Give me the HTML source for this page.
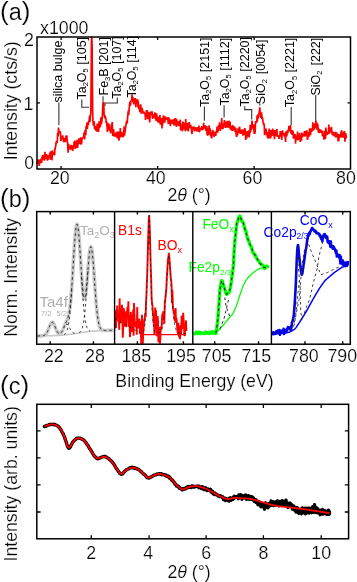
<!DOCTYPE html>
<html><head><meta charset="utf-8"><style>html,body{margin:0;padding:0;background:#fff;width:357px;height:582px;overflow:hidden}svg{display:block}text.txt[fill="#000"]{stroke:#fff;stroke-width:0.2px}</style></head>
<body><svg width="357" height="582" viewBox="0 0 357 582">
<defs><filter id="soft" x="0" y="0" width="357" height="582" filterUnits="userSpaceOnUse"><feGaussianBlur stdDeviation="0.35"/></filter></defs>
<rect width="357" height="582" fill="#fff"/>
<g filter="url(#soft)">
<rect width="357" height="582" fill="#fff"/>
<path class="dat" d="M37.20,162.90 L37.50,163.64 L37.80,161.85 L38.10,159.94 L38.40,161.08 L38.70,159.39 L39.00,162.32 L39.30,165.90 L39.60,160.46 L39.90,159.96 L40.20,163.06 L40.50,162.55 L40.80,161.69 L41.10,158.55 L41.40,161.02 L41.70,162.97 L42.00,156.90 L42.30,159.32 L42.60,154.99 L42.90,156.61 L43.20,154.86 L43.50,159.37 L43.80,156.22 L44.10,160.54 L44.40,160.05 L44.70,158.86 L45.00,151.91 L45.30,157.46 L45.60,158.68 L45.90,158.96 L46.20,154.00 L46.50,156.86 L46.80,155.21 L47.10,155.51 L47.40,160.74 L47.70,155.12 L48.00,157.18 L48.30,159.66 L48.60,155.22 L48.90,156.41 L49.20,156.87 L49.50,156.55 L49.80,152.64 L50.10,156.23 L50.40,159.76 L50.70,151.16 L51.00,157.95 L51.30,155.53 L51.60,153.00 L51.90,160.33 L52.20,156.41 L52.50,150.40 L52.80,153.77 L53.10,154.90 L53.40,152.35 L53.70,154.55 L54.00,152.05 L54.30,153.85 L54.60,155.45 L54.90,148.05 L55.20,149.32 L55.50,146.12 L55.80,146.56 L56.10,141.48 L56.40,141.76 L56.70,141.27 L57.00,142.86 L57.30,141.98 L57.60,133.22 L57.90,133.31 L58.20,136.35 L58.50,127.55 L58.80,130.83 L59.10,130.75 L59.40,133.53 L59.70,132.52 L60.00,131.11 L60.30,132.53 L60.60,134.40 L60.90,141.08 L61.20,136.96 L61.50,137.40 L61.80,139.39 L62.10,138.10 L62.40,137.96 L62.70,135.39 L63.00,138.67 L63.30,137.50 L63.60,142.25 L63.90,140.83 L64.20,138.93 L64.50,140.99 L64.80,138.13 L65.10,142.22 L65.40,139.21 L65.70,140.98 L66.00,135.60 L66.30,140.41 L66.60,135.76 L66.90,136.01 L67.20,142.29 L67.50,141.82 L67.80,146.16 L68.10,152.74 L68.40,144.01 L68.70,144.81 L69.00,147.41 L69.30,148.45 L69.60,146.70 L69.90,146.81 L70.20,149.64 L70.50,149.31 L70.80,144.86 L71.10,147.69 L71.40,148.08 L71.70,144.98 L72.00,148.85 L72.30,145.67 L72.60,151.04 L72.90,148.84 L73.20,148.40 L73.50,146.18 L73.80,147.30 L74.10,141.61 L74.40,143.87 L74.70,147.96 L75.00,140.49 L75.30,148.87 L75.60,141.11 L75.90,148.12 L76.20,143.23 L76.50,147.51 L76.80,145.11 L77.10,139.76 L77.40,147.32 L77.70,147.36 L78.00,142.47 L78.30,141.34 L78.60,141.16 L78.90,138.27 L79.20,144.29 L79.50,139.53 L79.80,140.95 L80.10,138.80 L80.40,139.28 L80.70,137.39 L81.00,144.75 L81.30,140.65 L81.60,143.57 L81.90,140.30 L82.20,137.74 L82.50,138.30 L82.80,137.12 L83.10,138.27 L83.40,136.65 L83.70,136.37 L84.00,132.60 L84.30,133.34 L84.60,139.57 L84.90,131.91 L85.20,129.89 L85.50,133.01 L85.80,135.21 L86.10,126.00 L86.40,128.70 L86.70,126.60 L87.00,122.46 L87.30,128.84 L87.60,125.77 L87.90,125.18 L88.20,121.93 L88.50,124.56 L88.80,120.81 L89.10,121.02 L89.40,117.11 L89.70,115.69 L90.00,121.98 L90.30,115.53 L90.60,115.35 L90.90,111.90 L91.20,71.19 L91.50,37.00 L91.80,37.00 L92.10,45.24 L92.40,85.21 L92.70,113.56 L93.00,121.41 L93.30,124.47 L93.60,125.41 L93.90,123.13 L94.20,121.21 L94.50,128.43 L94.80,128.93 L95.10,126.18 L95.40,128.61 L95.70,129.76 L96.00,130.16 L96.30,130.27 L96.60,126.12 L96.90,131.68 L97.20,123.52 L97.50,129.47 L97.80,128.25 L98.10,129.20 L98.40,131.96 L98.70,130.66 L99.00,122.88 L99.30,121.06 L99.60,127.92 L99.90,122.19 L100.20,124.68 L100.50,126.74 L100.80,119.12 L101.10,117.35 L101.40,123.81 L101.70,122.77 L102.00,119.45 L102.30,116.78 L102.60,110.67 L102.90,103.94 L103.20,102.35 L103.50,101.85 L103.80,105.40 L104.10,114.80 L104.40,115.16 L104.70,118.51 L105.00,115.75 L105.30,117.63 L105.60,117.56 L105.90,118.81 L106.20,122.87 L106.50,120.95 L106.80,125.18 L107.10,126.05 L107.40,131.86 L107.70,122.67 L108.00,129.61 L108.30,127.10 L108.60,127.65 L108.90,123.81 L109.20,127.01 L109.50,130.82 L109.80,128.75 L110.10,129.56 L110.40,128.80 L110.70,133.32 L111.00,130.24 L111.30,124.22 L111.60,128.89 L111.90,125.49 L112.20,122.07 L112.50,130.26 L112.80,135.97 L113.10,132.54 L113.40,129.30 L113.70,130.27 L114.00,136.58 L114.30,134.06 L114.60,133.94 L114.90,133.80 L115.20,134.22 L115.50,136.60 L115.80,136.02 L116.10,135.20 L116.40,131.71 L116.70,136.37 L117.00,133.06 L117.30,138.37 L117.60,131.66 L117.90,135.02 L118.20,135.42 L118.50,131.63 L118.80,140.49 L119.10,139.76 L119.40,134.21 L119.70,137.81 L120.00,136.70 L120.30,128.05 L120.60,136.38 L120.90,135.50 L121.20,135.81 L121.50,132.05 L121.80,133.99 L122.10,133.86 L122.40,137.42 L122.70,134.55 L123.00,133.17 L123.30,137.22 L123.60,130.78 L123.90,130.86 L124.20,126.33 L124.50,135.75 L124.80,132.69 L125.10,131.24 L125.40,129.22 L125.70,126.29 L126.00,125.28 L126.30,122.62 L126.60,121.45 L126.90,120.89 L127.20,123.54 L127.50,119.05 L127.80,115.55 L128.10,112.33 L128.40,110.45 L128.70,115.22 L129.00,110.33 L129.30,107.34 L129.60,104.72 L129.90,101.70 L130.20,103.90 L130.50,105.81 L130.80,101.33 L131.10,100.99 L131.40,100.19 L131.70,100.33 L132.00,94.58 L132.30,98.67 L132.60,97.02 L132.90,102.22 L133.20,97.57 L133.50,101.62 L133.80,104.52 L134.10,99.34 L134.40,98.66 L134.70,101.11 L135.00,100.69 L135.30,97.97 L135.60,102.44 L135.90,107.26 L136.20,100.98 L136.50,101.44 L136.80,99.31 L137.10,103.58 L137.40,99.34 L137.70,100.06 L138.00,107.29 L138.30,101.26 L138.60,107.33 L138.90,109.11 L139.20,106.04 L139.50,107.48 L139.80,112.13 L140.10,106.49 L140.40,105.93 L140.70,104.32 L141.00,108.95 L141.30,113.71 L141.60,112.80 L141.90,107.87 L142.20,108.62 L142.50,109.94 L142.80,112.55 L143.10,111.40 L143.40,112.92 L143.70,113.46 L144.00,112.03 L144.30,113.08 L144.60,114.10 L144.90,113.56 L145.20,115.56 L145.50,119.83 L145.80,116.38 L146.10,115.08 L146.40,110.29 L146.70,116.56 L147.00,110.05 L147.30,111.87 L147.60,118.69 L147.90,118.52 L148.20,116.29 L148.50,111.87 L148.80,115.52 L149.10,114.40 L149.40,117.99 L149.70,122.46 L150.00,116.32 L150.30,113.20 L150.60,111.84 L150.90,114.84 L151.20,114.27 L151.50,111.21 L151.80,114.81 L152.10,111.36 L152.40,118.14 L152.70,118.22 L153.00,118.50 L153.30,114.20 L153.60,117.29 L153.90,115.63 L154.20,115.11 L154.50,115.48 L154.80,112.91 L155.10,112.71 L155.40,119.48 L155.70,116.89 L156.00,118.35 L156.30,120.90 L156.60,113.24 L156.90,116.26 L157.20,119.32 L157.50,120.22 L157.80,118.26 L158.10,122.61 L158.40,120.51 L158.70,116.49 L159.00,117.41 L159.30,122.55 L159.60,121.67 L159.90,114.92 L160.20,124.44 L160.50,122.38 L160.80,124.64 L161.10,119.74 L161.40,120.10 L161.70,117.80 L162.00,128.36 L162.30,120.34 L162.60,125.30 L162.90,118.67 L163.20,120.88 L163.50,115.40 L163.80,118.99 L164.10,122.80 L164.40,116.17 L164.70,122.76 L165.00,120.48 L165.30,116.44 L165.60,118.21 L165.90,118.54 L166.20,119.92 L166.50,118.71 L166.80,118.07 L167.10,119.78 L167.40,117.89 L167.70,117.33 L168.00,121.13 L168.30,124.03 L168.60,117.17 L168.90,121.65 L169.20,119.78 L169.50,118.85 L169.80,124.19 L170.10,120.24 L170.40,126.11 L170.70,119.53 L171.00,122.94 L171.30,121.19 L171.60,119.69 L171.90,123.60 L172.20,121.57 L172.50,123.90 L172.80,122.13 L173.10,119.25 L173.40,122.22 L173.70,122.79 L174.00,125.54 L174.30,120.26 L174.60,122.90 L174.90,118.14 L175.20,125.15 L175.50,120.24 L175.80,118.24 L176.10,123.42 L176.40,126.91 L176.70,119.39 L177.00,120.76 L177.30,121.87 L177.60,120.86 L177.90,125.35 L178.20,122.01 L178.50,122.37 L178.80,126.26 L179.10,122.47 L179.40,126.01 L179.70,122.04 L180.00,121.44 L180.30,119.73 L180.60,130.54 L180.90,124.32 L181.20,126.05 L181.50,125.35 L181.80,126.00 L182.10,125.80 L182.40,131.34 L182.70,122.95 L183.00,121.60 L183.30,123.34 L183.60,122.55 L183.90,128.74 L184.20,129.11 L184.50,124.10 L184.80,123.01 L185.10,126.17 L185.40,131.33 L185.70,119.12 L186.00,128.83 L186.30,124.18 L186.60,130.32 L186.90,124.17 L187.20,126.47 L187.50,122.93 L187.80,124.47 L188.10,131.32 L188.40,129.68 L188.70,126.14 L189.00,124.90 L189.30,122.06 L189.60,126.53 L189.90,127.70 L190.20,127.67 L190.50,127.77 L190.80,124.91 L191.10,128.10 L191.40,128.30 L191.70,132.28 L192.00,134.07 L192.30,128.38 L192.60,126.67 L192.90,128.83 L193.20,127.37 L193.50,127.10 L193.80,129.20 L194.10,126.46 L194.40,131.36 L194.70,129.42 L195.00,130.57 L195.30,129.43 L195.60,127.99 L195.90,127.50 L196.20,129.71 L196.50,128.96 L196.80,131.38 L197.10,130.84 L197.40,127.05 L197.70,131.34 L198.00,127.41 L198.30,129.66 L198.60,130.75 L198.90,125.62 L199.20,131.70 L199.50,131.67 L199.80,130.58 L200.10,129.60 L200.40,129.55 L200.70,127.60 L201.00,129.45 L201.30,128.43 L201.60,130.10 L201.90,126.14 L202.20,130.06 L202.50,129.42 L202.80,128.23 L203.10,127.00 L203.40,129.50 L203.70,122.70 L204.00,128.50 L204.30,127.50 L204.60,127.24 L204.90,127.83 L205.20,125.44 L205.50,127.20 L205.80,130.42 L206.10,130.45 L206.40,130.42 L206.70,126.05 L207.00,132.62 L207.30,135.07 L207.60,135.23 L207.90,133.02 L208.20,127.87 L208.50,135.17 L208.80,132.05 L209.10,125.18 L209.40,133.67 L209.70,128.29 L210.00,128.90 L210.30,130.87 L210.60,136.45 L210.90,131.72 L211.20,133.69 L211.50,138.08 L211.80,137.74 L212.10,132.92 L212.40,132.63 L212.70,129.78 L213.00,131.53 L213.30,134.88 L213.60,134.90 L213.90,134.18 L214.20,136.85 L214.50,131.58 L214.80,133.40 L215.10,135.42 L215.40,134.73 L215.70,135.88 L216.00,133.66 L216.30,131.35 L216.60,133.03 L216.90,128.81 L217.20,126.70 L217.50,132.87 L217.80,130.72 L218.10,131.44 L218.40,125.28 L218.70,128.81 L219.00,127.80 L219.30,126.69 L219.60,122.33 L219.90,127.56 L220.20,130.80 L220.50,128.96 L220.80,125.78 L221.10,127.09 L221.40,128.84 L221.70,118.14 L222.00,125.29 L222.30,126.73 L222.60,126.64 L222.90,129.10 L223.20,126.97 L223.50,124.09 L223.80,123.56 L224.10,124.48 L224.40,120.14 L224.70,121.78 L225.00,124.73 L225.30,127.98 L225.60,122.04 L225.90,122.56 L226.20,123.48 L226.50,127.00 L226.80,123.21 L227.10,127.76 L227.40,120.90 L227.70,123.36 L228.00,123.63 L228.30,126.78 L228.60,127.83 L228.90,120.72 L229.20,122.75 L229.50,126.68 L229.80,124.09 L230.10,121.88 L230.40,129.61 L230.70,128.33 L231.00,128.63 L231.30,126.02 L231.60,130.53 L231.90,127.00 L232.20,131.03 L232.50,125.36 L232.80,125.67 L233.10,128.89 L233.40,126.41 L233.70,130.56 L234.00,129.50 L234.30,126.22 L234.60,129.27 L234.90,128.24 L235.20,132.10 L235.50,127.80 L235.80,128.55 L236.10,133.53 L236.40,136.70 L236.70,136.20 L237.00,130.77 L237.30,131.42 L237.60,135.42 L237.90,130.77 L238.20,128.37 L238.50,131.62 L238.80,132.67 L239.10,129.04 L239.40,126.75 L239.70,127.44 L240.00,133.61 L240.30,129.56 L240.60,131.43 L240.90,132.54 L241.20,133.80 L241.50,131.10 L241.80,133.59 L242.10,129.64 L242.40,131.24 L242.70,129.39 L243.00,135.72 L243.30,132.43 L243.60,130.44 L243.90,131.63 L244.20,132.08 L244.50,134.83 L244.80,128.13 L245.10,129.70 L245.40,131.57 L245.70,139.97 L246.00,135.35 L246.30,132.21 L246.60,134.56 L246.90,138.41 L247.20,131.73 L247.50,131.30 L247.80,135.83 L248.10,133.60 L248.40,133.91 L248.70,130.28 L249.00,137.13 L249.30,136.31 L249.60,132.79 L249.90,132.92 L250.20,124.86 L250.50,132.13 L250.80,128.74 L251.10,129.59 L251.40,129.34 L251.70,125.40 L252.00,120.52 L252.30,126.87 L252.60,124.71 L252.90,126.97 L253.20,127.23 L253.50,129.05 L253.80,124.40 L254.10,133.83 L254.40,130.23 L254.70,131.91 L255.00,133.63 L255.30,127.15 L255.60,121.05 L255.90,122.88 L256.20,121.17 L256.50,122.15 L256.80,122.65 L257.10,115.43 L257.40,121.04 L257.70,114.48 L258.00,118.53 L258.30,116.16 L258.60,114.38 L258.90,114.05 L259.20,112.00 L259.50,111.09 L259.80,107.29 L260.10,111.38 L260.40,116.60 L260.70,117.74 L261.00,116.58 L261.30,115.55 L261.60,112.29 L261.90,119.18 L262.20,116.72 L262.50,118.56 L262.80,119.80 L263.10,122.79 L263.40,123.14 L263.70,125.20 L264.00,123.34 L264.30,126.44 L264.60,135.18 L264.90,129.40 L265.20,129.76 L265.50,132.44 L265.80,133.39 L266.10,128.55 L266.40,131.62 L266.70,135.33 L267.00,133.89 L267.30,133.91 L267.60,138.51 L267.90,132.08 L268.20,134.33 L268.50,132.62 L268.80,138.50 L269.10,128.56 L269.40,132.32 L269.70,132.77 L270.00,136.28 L270.30,136.16 L270.60,138.49 L270.90,129.92 L271.20,136.68 L271.50,133.65 L271.80,132.57 L272.10,136.06 L272.40,131.83 L272.70,128.48 L273.00,133.43 L273.30,130.16 L273.60,132.62 L273.90,135.58 L274.20,135.40 L274.50,139.10 L274.80,133.92 L275.10,130.05 L275.40,132.35 L275.70,131.93 L276.00,131.12 L276.30,135.97 L276.60,132.90 L276.90,129.09 L277.20,136.90 L277.50,134.61 L277.80,136.03 L278.10,135.36 L278.40,136.94 L278.70,135.28 L279.00,138.81 L279.30,136.51 L279.60,136.44 L279.90,136.49 L280.20,131.08 L280.50,134.82 L280.80,134.55 L281.10,135.90 L281.40,131.36 L281.70,140.04 L282.00,135.60 L282.30,131.79 L282.60,130.34 L282.90,134.48 L283.20,135.04 L283.50,133.22 L283.80,135.49 L284.10,133.25 L284.40,136.60 L284.70,132.78 L285.00,134.66 L285.30,137.49 L285.60,142.00 L285.90,131.50 L286.20,132.96 L286.50,131.76 L286.80,136.36 L287.10,130.64 L287.40,132.45 L287.70,133.65 L288.00,130.57 L288.30,130.20 L288.60,131.17 L288.90,126.02 L289.20,127.49 L289.50,130.05 L289.80,131.25 L290.10,129.85 L290.40,125.11 L290.70,129.38 L291.00,133.51 L291.30,133.27 L291.60,131.90 L291.90,130.02 L292.20,134.89 L292.50,131.85 L292.80,130.61 L293.10,131.94 L293.40,138.73 L293.70,135.43 L294.00,138.42 L294.30,133.93 L294.60,138.31 L294.90,134.11 L295.20,135.66 L295.50,143.59 L295.80,138.87 L296.10,135.46 L296.40,136.71 L296.70,137.82 L297.00,140.32 L297.30,135.31 L297.60,131.61 L297.90,135.78 L298.20,136.56 L298.50,136.76 L298.80,140.19 L299.10,137.22 L299.40,138.58 L299.70,132.94 L300.00,138.54 L300.30,142.00 L300.60,138.05 L300.90,136.44 L301.20,136.05 L301.50,140.68 L301.80,132.70 L302.10,134.96 L302.40,136.51 L302.70,137.23 L303.00,133.69 L303.30,135.74 L303.60,133.93 L303.90,134.98 L304.20,134.13 L304.50,131.10 L304.80,134.23 L305.10,136.73 L305.40,131.27 L305.70,133.26 L306.00,135.78 L306.30,130.63 L306.60,134.13 L306.90,130.38 L307.20,136.59 L307.50,139.86 L307.80,138.86 L308.10,132.21 L308.40,134.85 L308.70,132.90 L309.00,132.70 L309.30,136.74 L309.60,128.27 L309.90,134.82 L310.20,131.28 L310.50,135.17 L310.80,131.29 L311.10,128.46 L311.40,130.88 L311.70,131.87 L312.00,129.50 L312.30,130.48 L312.60,127.21 L312.90,122.18 L313.20,130.57 L313.50,129.59 L313.80,127.59 L314.10,126.95 L314.40,129.36 L314.70,124.62 L315.00,123.49 L315.30,124.59 L315.60,128.19 L315.90,120.31 L316.20,128.05 L316.50,123.33 L316.80,122.58 L317.10,130.02 L317.40,126.68 L317.70,123.78 L318.00,127.10 L318.30,131.43 L318.60,132.78 L318.90,128.67 L319.20,131.68 L319.50,132.81 L319.80,129.10 L320.10,132.23 L320.40,131.35 L320.70,130.12 L321.00,130.48 L321.30,132.34 L321.60,132.46 L321.90,130.97 L322.20,131.61 L322.50,136.24 L322.80,133.66 L323.10,135.63 L323.40,136.58 L323.70,134.83 L324.00,139.74 L324.30,130.78 L324.60,135.55 L324.90,132.31 L325.20,138.64 L325.50,138.22 L325.80,127.49 L326.10,130.14 L326.40,134.67 L326.70,134.82 L327.00,134.46 L327.30,131.90 L327.60,133.22 L327.90,133.58 L328.20,131.25 L328.50,134.25 L328.80,124.51 L329.10,132.69 L329.40,127.64 L329.70,133.33 L330.00,130.04 L330.30,128.28 L330.60,132.10 L330.90,128.53 L331.20,128.68 L331.50,126.94 L331.80,131.56 L332.10,133.23 L332.40,134.91 L332.70,131.69 L333.00,135.37 L333.30,132.62 L333.60,132.53 L333.90,134.70 L334.20,136.34 L334.50,132.52 L334.80,133.03 L335.10,133.51 L335.40,134.45 L335.70,131.83 L336.00,137.62 L336.30,133.60 L336.60,136.22 L336.90,132.61 L337.20,136.16 L337.50,136.38 L337.80,134.14 L338.10,141.34 L338.40,136.68 L338.70,140.87 L339.00,138.62 L339.30,134.04 L339.60,134.97 L339.90,137.46 L340.20,136.44 L340.50,136.47 L340.80,135.57 L341.10,131.22 L341.40,135.87 L341.70,130.16 L342.00,137.74 L342.30,134.62 L342.60,134.72 L342.90,136.22 L343.20,137.70 L343.50,132.80 L343.80,131.92 L344.10,133.93 L344.40,131.14 L344.70,134.30 L345.00,141.75 L345.30,134.11 L345.60,139.10 L345.90,133.27 L346.20,138.15" fill="none" stroke="#ff0000" stroke-width="1.7" stroke-linejoin="bevel"/>
<rect class="ax" x="37" y="37" width="313.5" height="132" fill="none" stroke="#000" stroke-width="1.5"/>
<path class="ax" d="M61.1,169v-3M61.1,37v3M157.6,169v-3M157.6,37v3M254.1,169v-3M254.1,37v3M37,102.8h3M350.5,102.8h-3" stroke="#000" stroke-width="1.3" fill="none"/>
<text class="txt" x="33.8" y="45.8" font-family="Liberation Sans" font-size="17.8" text-anchor="end" fill="#000" >2</text>
<text class="txt" x="33.3" y="109.6" font-family="Liberation Sans" font-size="17.8" text-anchor="end" fill="#000" >1</text>
<text class="txt" x="34.2" y="169" font-family="Liberation Sans" font-size="17.8" text-anchor="end" fill="#000" >0</text>
<text class="txt" x="40" y="33.9" font-family="Liberation Sans" font-size="17.8" text-anchor="start" fill="#000" >x1000</text>
<text class="txt" x="59.8" y="184.3" font-family="Liberation Sans" font-size="17.8" text-anchor="middle" fill="#000" >20</text>
<text class="txt" x="155.8" y="184.3" font-family="Liberation Sans" font-size="17.8" text-anchor="middle" fill="#000" >40</text>
<text class="txt" x="252.4" y="184.3" font-family="Liberation Sans" font-size="17.8" text-anchor="middle" fill="#000" >60</text>
<text class="txt" x="346" y="184.3" font-family="Liberation Sans" font-size="17.8" text-anchor="middle" fill="#000" >80</text>
<text class="txt" x="189" y="201" font-family="Liberation Sans" font-size="17.7" text-anchor="middle" fill="#000">2<tspan font-style="italic">θ</tspan> (°)</text>
<text class="txt" x="0" y="20" font-family="Liberation Sans" font-size="26" text-anchor="start" fill="#000" >(<tspan font-size="23.5">a</tspan>)</text>
<text class="txt" transform="translate(17.4,160.3) rotate(-90)" font-family="Liberation Sans" font-size="17.7" text-anchor="start" fill="#000">Intensity (cts/s)</text>
<text class="ann" transform="translate(61.8,102.5) rotate(-90)" font-family="Liberation Sans" font-size="12.5" text-anchor="start" fill="#000">silica bulge</text>
<text class="ann" transform="translate(86.2,99.5) rotate(-90)" font-family="Liberation Sans" font-size="12.5" text-anchor="start" fill="#000">Ta<tspan font-size="7.5" dy="2.2">2</tspan><tspan dy="-2.2">O</tspan><tspan font-size="7.5" dy="2.2">5</tspan><tspan dy="-2.2"> [105]</tspan></text>
<text class="ann" transform="translate(107.6,95.5) rotate(-90)" font-family="Liberation Sans" font-size="12.5" text-anchor="start" fill="#000">Fe<tspan font-size="7.5" dy="2.2">3</tspan><tspan dy="-2.2">B [201]</tspan></text>
<text class="ann" transform="translate(121,98.8) rotate(-90)" font-family="Liberation Sans" font-size="12.5" text-anchor="start" fill="#000">Ta<tspan font-size="7.5" dy="2.2">2</tspan><tspan dy="-2.2">O</tspan><tspan font-size="7.5" dy="2.2">5</tspan><tspan dy="-2.2"> [107]</tspan></text>
<text class="ann" transform="translate(136.2,97.5) rotate(-90)" font-family="Liberation Sans" font-size="12.5" text-anchor="start" fill="#000">Ta<tspan font-size="7.5" dy="2.2">2</tspan><tspan dy="-2.2">O</tspan><tspan font-size="7.5" dy="2.2">5</tspan><tspan dy="-2.2"> [114]</tspan></text>
<text class="ann" transform="translate(208.7,107) rotate(-90)" font-family="Liberation Sans" font-size="12.5" text-anchor="start" fill="#000">Ta<tspan font-size="7.5" dy="2.2">2</tspan><tspan dy="-2.2">O</tspan><tspan font-size="7.5" dy="2.2">5</tspan><tspan dy="-2.2"> [2151]</tspan></text>
<text class="ann" transform="translate(228.7,105.5) rotate(-90)" font-family="Liberation Sans" font-size="12.5" text-anchor="start" fill="#000">Ta<tspan font-size="7.5" dy="2.2">2</tspan><tspan dy="-2.2">O</tspan><tspan font-size="7.5" dy="2.2">5</tspan><tspan dy="-2.2"> [1112]</tspan></text>
<text class="ann" transform="translate(249,106.5) rotate(-90)" font-family="Liberation Sans" font-size="12.5" text-anchor="start" fill="#000">Ta<tspan font-size="7.5" dy="2.2">2</tspan><tspan dy="-2.2">O</tspan><tspan font-size="7.5" dy="2.2">5</tspan><tspan dy="-2.2"> [2220]</tspan></text>
<text class="ann" transform="translate(264.5,104.2) rotate(-90)" font-family="Liberation Sans" font-size="12.5" text-anchor="start" fill="#000">SiO<tspan font-size="7.5" dy="2.2">2</tspan><tspan dy="-2.2" dx="1.5"> [0054]</tspan></text>
<text class="ann" transform="translate(294.3,107.2) rotate(-90)" font-family="Liberation Sans" font-size="12.5" text-anchor="start" fill="#000">Ta<tspan font-size="7.5" dy="2.2">2</tspan><tspan dy="-2.2">O</tspan><tspan font-size="7.5" dy="2.2">5</tspan><tspan dy="-2.2"> [2221]</tspan></text>
<text class="ann" transform="translate(319.5,95.5) rotate(-90)" font-family="Liberation Sans" font-size="12.5" text-anchor="start" fill="#000">SiO<tspan font-size="7.5" dy="2.2">2</tspan><tspan dy="-2.2" dx="1.5"> [222]</tspan></text>
<path class="lead" d="M58.9,102.5V125M81.8,99.6V107.3H89M103,96.3V101.4M117.3,97.6V103H105V106M204.4,106.5V120.8M224.1,105.3V117.4M244.7,106.3V109.6H251.7V119.4M259.8,103.3V105.6M291.2,107V125M315.7,95V120.5" stroke="#333" stroke-width="1.1" fill="none"/>
<path class="dat" d="M37.50,335.94 L38.00,335.93 L38.50,335.93 L39.00,335.92 L39.50,335.92 L40.00,335.92 L40.50,335.91 L41.00,335.91 L41.50,335.90 L42.00,335.90 L42.50,335.89 L43.00,335.88 L43.50,335.88 L44.00,335.87 L44.50,335.86 L45.00,335.86 L45.50,335.85 L46.00,335.84 L46.50,335.83 L47.00,335.82 L47.50,335.81 L48.00,335.80 L48.50,335.79 L49.00,335.78 L49.50,335.77 L50.00,335.75 L50.50,335.74 L51.00,335.72 L51.50,335.71 L52.00,335.69 L52.50,335.68 L53.00,335.66 L53.50,335.64 L54.00,335.62 L54.50,335.60 L55.00,335.58 L55.50,335.56 L56.00,335.54 L56.50,335.51 L57.00,335.49 L57.50,335.46 L58.00,335.43 L58.50,335.40 L59.00,335.37 L59.50,335.34 L60.00,335.31 L60.50,335.27 L61.00,335.24 L61.50,335.20 L62.00,335.16 L62.50,335.12 L63.00,335.08 L63.50,335.03 L64.00,334.99 L64.50,334.94 L65.00,334.89 L65.50,334.84 L66.00,334.79 L66.50,334.74 L67.00,334.68 L67.50,334.62 L68.00,334.56 L68.50,334.50 L69.00,334.44 L69.50,334.38 L70.00,334.31 L70.50,334.24 L71.00,334.17 L71.50,334.10 L72.00,334.03 L72.50,333.96 L73.00,333.89 L73.50,333.81 L74.00,333.73 L74.50,333.66 L75.00,333.58 L75.50,333.50 L76.00,333.42 L76.50,333.34 L77.00,333.26 L77.50,333.18 L78.00,333.10 L78.50,333.02 L79.00,332.94 L79.50,332.86 L80.00,332.78 L80.50,332.70 L81.00,332.62 L81.50,332.54 L82.00,332.47 L82.50,332.39 L83.00,332.31 L83.50,332.24 L84.00,332.17 L84.50,332.10 L85.00,332.03 L85.50,331.96 L86.00,331.89 L86.50,331.82 L87.00,331.76 L87.50,331.70 L88.00,331.64 L88.50,331.58 L89.00,331.52 L89.50,331.46 L90.00,331.41 L90.50,331.36 L91.00,331.31 L91.50,331.26 L92.00,331.21 L92.50,331.17 L93.00,331.12 L93.50,331.08 L94.00,331.04 L94.50,331.00 L95.00,330.96 L95.50,330.93 L96.00,330.89 L96.50,330.86 L97.00,330.83 L97.50,330.80 L98.00,330.77 L98.50,330.74 L99.00,330.71 L99.50,330.69 L100.00,330.66 L100.50,330.64 L101.00,330.62 L101.50,330.60 L102.00,330.58 L102.50,330.56 L103.00,330.54 L103.50,330.52 L104.00,330.51 L104.50,330.49 L105.00,330.48 L105.50,330.46 L106.00,330.45 L106.50,330.43 L107.00,330.42 L107.50,330.41 L108.00,330.40 L108.50,330.39 L109.00,330.38 L109.50,330.37 L110.00,330.36 L110.50,330.35 L111.00,330.34 L111.50,330.34 L112.00,330.33 L112.50,330.32 L113.00,330.32 L113.50,330.31" fill="none" stroke="#c8c8c8" stroke-width="1.6"/>
<path class="dat" d="M37.50,335.94 L38.00,335.93 L38.50,335.93 L39.00,335.92 L39.50,335.92 L40.00,335.91 L40.50,335.90 L41.00,335.89 L41.50,335.87 L42.00,335.84 L42.50,335.79 L43.00,335.72 L43.50,335.61 L44.00,335.46 L44.50,335.25 L45.00,334.95 L45.50,334.54 L46.00,334.01 L46.50,333.34 L47.00,332.51 L47.50,331.53 L48.00,330.41 L48.50,329.17 L49.00,327.85 L49.50,326.53 L50.00,325.26 L50.50,324.12 L51.00,323.20 L51.50,322.55 L52.00,322.22 L52.50,322.24 L53.00,322.60 L53.50,323.28 L54.00,324.21 L54.50,325.35 L55.00,326.59 L55.50,327.88 L56.00,329.14 L56.50,330.30 L57.00,331.33 L57.50,332.19 L58.00,332.86 L58.50,333.34 L59.00,333.63 L59.50,333.73 L60.00,333.64 L60.50,333.37 L61.00,332.92 L61.50,332.30 L62.00,331.51 L62.50,330.58 L63.00,329.52 L63.50,328.38 L64.00,327.17 L64.50,325.95 L65.00,324.74 L65.50,323.57 L66.00,322.44 L66.50,321.33 L67.00,320.20 L67.50,318.95 L68.00,317.48 L68.50,315.66 L69.00,313.36 L69.50,310.44 L70.00,306.79 L70.50,302.30 L71.00,296.96 L71.50,290.77 L72.00,283.81 L72.50,276.23 L73.00,268.22 L73.50,260.06 L74.00,252.04 L74.50,244.49 L75.00,237.74 L75.50,232.09 L76.00,227.83 L76.50,225.15 L77.00,224.18 L77.50,224.98 L78.00,227.50 L78.50,231.59 L79.00,237.06 L79.50,243.61 L80.00,250.94 L80.50,258.67 L81.00,266.47 L81.50,273.99 L82.00,280.90 L82.50,286.92 L83.00,291.83 L83.50,295.44 L84.00,297.62 L84.50,298.30 L85.00,297.49 L85.50,295.25 L86.00,291.69 L86.50,287.02 L87.00,281.47 L87.50,275.37 L88.00,269.07 L88.50,262.93 L89.00,257.34 L89.50,252.65 L90.00,249.16 L90.50,247.12 L91.00,246.67 L91.50,247.85 L92.00,250.60 L92.50,254.79 L93.00,260.16 L93.50,266.44 L94.00,273.32 L94.50,280.46 L95.00,287.59 L95.50,294.43 L96.00,300.78 L96.50,306.51 L97.00,311.52 L97.50,315.79 L98.00,319.33 L98.50,322.20 L99.00,324.46 L99.50,326.19 L100.00,327.50 L100.50,328.46 L101.00,329.14 L101.50,329.62 L102.00,329.94 L102.50,330.15 L103.00,330.29 L103.50,330.37 L104.00,330.41 L104.50,330.44 L105.00,330.44 L105.50,330.44 L106.00,330.44 L106.50,330.43 L107.00,330.42 L107.50,330.41 L108.00,330.40 L108.50,330.39 L109.00,330.38 L109.50,330.37 L110.00,330.36 L110.50,330.35 L111.00,330.34 L111.50,330.34 L112.00,330.33 L112.50,330.32 L113.00,330.32 L113.50,330.31" fill="none" stroke="#c8c8c8" stroke-width="3.6" stroke-linejoin="round"/>
<path class="dash" d="M66.00,324.48 L66.50,324.24 L67.00,324.27 L67.50,324.56 L68.00,325.08 L68.50,325.80 L69.00,326.66 L69.50,327.60 L70.00,328.56 L70.50,329.48 L71.00,330.34 L71.50,331.09 L72.00,331.73 L72.50,332.24 L73.00,332.64 L73.50,332.93 L74.00,333.13 L74.50,333.25" fill="none" stroke="#333" stroke-width="1.0" stroke-dasharray="2.6,2.9"/>
<path class="dash" d="M64.00,334.57 L64.50,334.30 L65.00,333.93 L65.50,333.43 L66.00,332.75 L66.50,331.83 L67.00,330.61 L67.50,329.01 L68.00,326.96 L68.50,324.36 L69.00,321.14 L69.50,317.22 L70.00,312.54 L70.50,307.06 L71.00,300.80 L71.50,293.78 L72.00,286.11" fill="none" stroke="#333" stroke-width="1.0" stroke-dasharray="2.6,2.9"/>
<path class="dash" d="M81.50,276.53 L82.00,284.55 L82.50,292.07 L83.00,298.94 L83.50,305.06 L84.00,310.40 L84.50,314.94 L85.00,318.73 L85.50,321.82 L86.00,324.29 L86.50,326.21 L87.00,327.69 L87.50,328.79 L88.00,329.59 L88.50,330.17 L89.00,330.56 L89.50,330.82 L90.00,330.99" fill="none" stroke="#333" stroke-width="1.0" stroke-dasharray="2.6,2.9"/>
<path class="dash" d="M79.00,332.63 L79.50,332.37 L80.00,332.02 L80.50,331.54 L81.00,330.89 L81.50,330.01 L82.00,328.82 L82.50,327.25 L83.00,325.21 L83.50,322.62 L84.00,319.39 L84.50,315.46 L85.00,310.79 L85.50,305.39 L86.00,299.29 L86.50,292.63 L87.00,285.55 L87.50,278.28 L88.00,271.11" fill="none" stroke="#333" stroke-width="1.0" stroke-dasharray="2.6,2.9"/>
<path class="dash" d="M37.50,335.94 L38.00,335.93 L38.50,335.93 L39.00,335.92 L39.50,335.92 L40.00,335.91 L40.50,335.90 L41.00,335.89 L41.50,335.87 L42.00,335.84 L42.50,335.79 L43.00,335.72 L43.50,335.61 L44.00,335.46 L44.50,335.25 L45.00,334.95 L45.50,334.54 L46.00,334.01 L46.50,333.34 L47.00,332.51 L47.50,331.53 L48.00,330.41 L48.50,329.17 L49.00,327.85 L49.50,326.53 L50.00,325.26 L50.50,324.12 L51.00,323.20 L51.50,322.55 L52.00,322.22 L52.50,322.24 L53.00,322.60 L53.50,323.28 L54.00,324.21 L54.50,325.35 L55.00,326.59 L55.50,327.88 L56.00,329.14 L56.50,330.30 L57.00,331.33 L57.50,332.19 L58.00,332.86 L58.50,333.34 L59.00,333.63 L59.50,333.73 L60.00,333.64 L60.50,333.37 L61.00,332.92 L61.50,332.30 L62.00,331.51 L62.50,330.58 L63.00,329.52 L63.50,328.38 L64.00,327.17 L64.50,325.95 L65.00,324.74 L65.50,323.57 L66.00,322.44 L66.50,321.33 L67.00,320.20 L67.50,318.95 L68.00,317.48 L68.50,315.66 L69.00,313.36 L69.50,310.44 L70.00,306.79 L70.50,302.30 L71.00,296.96 L71.50,290.77 L72.00,283.81 L72.50,276.23 L73.00,268.22 L73.50,260.06 L74.00,252.04 L74.50,244.49 L75.00,237.74 L75.50,232.09 L76.00,227.83 L76.50,225.15 L77.00,224.18 L77.50,224.98 L78.00,227.50 L78.50,231.59 L79.00,237.06 L79.50,243.61 L80.00,250.94 L80.50,258.67 L81.00,266.47 L81.50,273.99 L82.00,280.90 L82.50,286.92 L83.00,291.83 L83.50,295.44 L84.00,297.62 L84.50,298.30 L85.00,297.49 L85.50,295.25 L86.00,291.69 L86.50,287.02 L87.00,281.47 L87.50,275.37 L88.00,269.07 L88.50,262.93 L89.00,257.34 L89.50,252.65 L90.00,249.16 L90.50,247.12 L91.00,246.67 L91.50,247.85 L92.00,250.60 L92.50,254.79 L93.00,260.16 L93.50,266.44 L94.00,273.32 L94.50,280.46 L95.00,287.59 L95.50,294.43 L96.00,300.78 L96.50,306.51 L97.00,311.52 L97.50,315.79 L98.00,319.33 L98.50,322.20 L99.00,324.46 L99.50,326.19 L100.00,327.50 L100.50,328.46 L101.00,329.14 L101.50,329.62 L102.00,329.94 L102.50,330.15 L103.00,330.29 L103.50,330.37 L104.00,330.41 L104.50,330.44 L105.00,330.44 L105.50,330.44 L106.00,330.44 L106.50,330.43 L107.00,330.42 L107.50,330.41 L108.00,330.40 L108.50,330.39 L109.00,330.38 L109.50,330.37 L110.00,330.36 L110.50,330.35 L111.00,330.34 L111.50,330.34 L112.00,330.33 L112.50,330.32 L113.00,330.32 L113.50,330.31" fill="none" stroke="#2a2a2a" stroke-width="1.0" stroke-dasharray="2.6,2.9"/>
<text class="txt" x="39.5" y="307" font-family="Liberation Sans" font-size="15" text-anchor="start" fill="#b0b0b0" >Ta4f</text>
<text class="txt" x="41" y="316.4" font-family="Liberation Sans" font-size="7.5" text-anchor="start" fill="#b0b0b0" style="stroke:none">7/2</text>
<text class="txt" x="56.5" y="316.4" font-family="Liberation Sans" font-size="7.5" text-anchor="start" fill="#b0b0b0" style="stroke:none">5/2</text>
<text class="txt" x="80" y="234.7" font-family="Liberation Sans" font-size="13.5" fill="#b0b0b0">Ta<tspan font-size="9" dy="3">2</tspan><tspan dy="-3">O</tspan><tspan font-size="9" dy="3">3</tspan></text>
<path class="dat" d="M114.80,310.04 L115.20,312.37 L115.60,317.87 L116.00,328.14 L116.40,315.07 L116.80,314.70 L117.20,305.60 L117.60,319.06 L118.00,312.24 L118.40,321.63 L118.80,314.42 L119.20,329.82 L119.60,298.39 L120.00,312.96 L120.40,323.20 L120.80,312.95 L121.20,309.43 L121.60,314.13 L122.00,304.89 L122.40,317.86 L122.80,337.82 L123.20,327.04 L123.60,308.11 L124.00,310.34 L124.40,314.56 L124.80,326.76 L125.20,311.47 L125.60,312.82 L126.00,326.43 L126.40,326.49 L126.80,316.19 L127.20,310.10 L127.60,306.66 L128.00,314.12 L128.40,301.33 L128.80,326.89 L129.20,315.39 L129.60,325.06 L130.00,337.08 L130.40,331.40 L130.80,311.88 L131.20,329.28 L131.60,331.96 L132.00,316.00 L132.40,314.47 L132.80,321.87 L133.20,309.42 L133.60,335.76 L134.00,303.05 L134.40,314.31 L134.80,321.66 L135.20,322.25 L135.60,325.82 L136.00,326.94 L136.40,323.05 L136.80,334.76 L137.20,307.14 L137.60,325.55 L138.00,319.71 L138.40,327.14 L138.80,328.12 L139.20,318.72 L139.60,321.23 L140.00,333.60 L140.40,329.98 L140.80,321.36 L141.20,343.70 L141.60,343.70 L142.00,314.82 L142.40,329.61 L142.80,343.70 L143.20,332.86 L143.60,327.41 L144.00,322.79 L144.40,318.56 L144.80,318.80 L145.20,313.07 L145.60,317.09 L146.00,303.74 L146.40,295.86 L146.80,283.93 L147.20,275.77 L147.60,260.22 L148.00,245.58 L148.40,232.27 L148.80,219.51 L149.10,215.24 L149.20,215.83 L149.60,224.51 L150.00,238.01 L150.40,253.22 L150.80,269.87 L151.20,279.38 L151.60,298.36 L152.00,302.34 L152.40,304.78 L152.80,311.47 L153.20,313.86 L153.60,322.96 L154.00,317.98 L154.40,334.43 L154.80,319.50 L155.20,307.53 L155.60,320.76 L156.00,310.16 L156.40,326.92 L156.80,336.29 L157.20,332.82 L157.60,315.98 L158.00,320.81 L158.40,342.23 L158.80,329.76 L159.20,326.94 L159.60,335.55 L160.00,343.70 L160.40,336.78 L160.80,326.66 L161.20,327.76 L161.60,329.00 L162.00,318.15 L162.40,313.49 L162.80,320.44 L163.20,311.19 L163.60,315.22 L164.00,313.41 L164.40,323.70 L164.80,300.78 L165.20,300.49 L165.60,295.44 L166.00,292.32 L166.40,287.93 L166.80,277.92 L167.20,271.82 L167.60,264.44 L168.00,259.68 L168.40,257.08 L168.80,254.16 L168.80,252.81 L169.20,255.92 L169.60,260.91 L170.00,267.18 L170.40,272.11 L170.80,278.42 L171.20,279.77 L171.60,286.57 L172.00,303.16 L172.40,290.17 L172.80,303.64 L173.20,310.76 L173.60,310.33 L174.00,310.05 L174.40,317.61 L174.80,320.01 L175.20,321.04 L175.60,308.15 L176.00,322.85 L176.40,317.90 L176.80,321.00 L177.20,327.90 L177.60,331.75 L178.00,334.22 L178.40,322.73 L178.80,334.88 L179.20,337.12 L179.60,336.91 L180.00,339.13 L180.40,326.16 L180.80,325.95 L181.20,334.46 L181.60,315.86 L182.00,329.26 L182.40,322.98 L182.80,324.35 L183.20,312.69 L183.60,319.93 L184.00,327.32 L184.40,335.05 L184.80,335.91 L185.20,326.82 L185.60,325.89 L186.00,320.44 L186.40,330.92" fill="none" stroke="#ff0000" stroke-width="1.9" stroke-linejoin="bevel"/>
<path class="dat" d="M142,334.6H186" stroke="#ff0000" stroke-width="1.1"/>
<path class="dash" d="M114.80,318.75 L115.20,318.88 L115.60,319.03 L116.00,319.21 L116.40,319.42 L116.80,319.65 L117.20,319.87 L117.60,320.10 L118.00,320.33 L118.40,320.56 L118.80,320.79 L119.20,321.02 L119.60,321.25 L120.00,321.48 L120.40,321.71 L120.80,321.94 L121.20,322.16 L121.60,322.39 L122.00,322.62 L122.40,322.85 L122.80,323.08 L123.20,323.31 L123.60,323.54 L124.00,323.77 L124.40,324.00 L124.80,324.23 L125.20,324.45 L125.60,324.68 L126.00,324.91 L126.40,325.14 L126.80,325.37 L127.20,325.60 L127.60,325.83 L128.00,326.06 L128.40,326.29 L128.80,326.52 L129.20,326.74 L129.60,326.97 L130.00,327.20 L130.40,327.43 L130.80,327.66 L131.20,327.89 L131.60,328.12 L132.00,328.35 L132.40,328.58 L132.80,328.81 L133.20,329.03 L133.60,329.26 L134.00,329.49 L134.40,329.72 L134.80,329.95 L135.20,330.18 L135.60,330.41 L136.00,330.64 L136.40,330.87 L136.80,331.10 L137.20,331.32 L137.60,331.55 L138.00,331.78 L138.40,332.01 L138.80,332.24 L139.20,332.47 L139.60,332.68 L140.00,332.86 L140.40,333.02 L140.80,333.13 L141.20,333.21 L141.60,333.23 L142.00,333.18 L142.40,333.02 L142.80,332.72 L143.20,332.21 L143.60,331.41 L144.00,330.20 L144.40,328.38 L144.80,325.74 L145.20,321.99 L145.60,316.84 L146.00,309.96 L146.40,301.10 L146.80,290.09 L147.20,277.01 L147.60,262.26 L148.00,246.71 L148.40,231.84 L148.80,219.95 L149.10,215.50 L149.20,216.28 L149.60,225.33 L150.00,239.07 L150.40,254.51 L150.80,269.80 L151.20,283.79 L151.60,295.86 L152.00,305.79 L152.40,313.64 L152.80,319.61 L153.20,324.02 L153.60,327.17 L154.00,329.37 L154.40,330.86 L154.80,331.84 L155.20,332.47 L155.60,332.87 L156.00,333.10 L156.40,333.24 L156.80,333.30 L157.20,333.32 L157.60,333.30 L158.00,333.24 L158.40,333.16 L158.80,333.03 L159.20,332.85 L159.60,332.62 L160.00,332.30 L160.40,331.88 L160.80,331.33 L161.20,330.62 L161.60,329.71 L162.00,328.56 L162.40,327.13 L162.80,325.34 L163.20,323.17 L163.60,320.54 L164.00,317.40 L164.40,313.72 L164.80,309.47 L165.20,304.62 L165.60,299.21 L166.00,293.29 L166.40,286.96 L166.80,280.37 L167.20,273.77 L167.60,267.43 L168.00,261.77 L168.40,257.30 L168.80,255.00 L168.80,255.00 L169.20,257.30 L169.60,261.77 L170.00,267.43 L170.40,273.77 L170.80,280.37 L171.20,286.96 L171.60,293.29 L172.00,299.21 L172.40,304.62 L172.80,309.47 L173.20,313.72 L173.60,317.40 L174.00,320.54 L174.40,323.17 L174.80,325.34 L175.20,327.13 L175.60,328.56 L176.00,329.71 L176.40,330.62 L176.80,331.33 L177.20,331.88 L177.60,332.30 L178.00,332.62 L178.40,332.86 L178.80,333.03 L179.20,333.17 L179.60,333.26 L180.00,333.33 L180.40,333.38 L180.80,333.42 L181.20,333.44 L181.60,333.46 L182.00,333.47 L182.40,333.48 L182.80,333.49 L183.20,333.49 L183.60,333.49 L184.00,333.50 L184.40,333.50 L184.80,333.50 L185.20,333.50 L185.60,333.50 L186.00,333.50 L186.40,333.50" fill="none" stroke="#222" stroke-width="0.85" stroke-dasharray="2.6,2.9"/>
<text class="txt" x="118" y="234.7" font-family="Liberation Sans" font-size="13.8" text-anchor="start" fill="#ff0000" >B1s</text>
<text class="txt" x="157.5" y="250" font-family="Liberation Sans" font-size="13.8" fill="#ff0000">BO<tspan font-size="9" dy="3">x</tspan></text>
<path class="dat" d="M194.00,332.87 L194.50,333.30 L195.00,333.86 L195.50,332.96 L196.00,332.22 L196.50,332.53 L197.00,332.23 L197.50,332.35 L198.00,333.60 L198.50,333.05 L199.00,332.17 L199.50,333.25 L200.00,333.55 L200.50,332.73 L201.00,332.56 L201.50,332.73 L202.00,333.03 L202.50,333.20 L203.00,333.46 L203.50,333.47 L204.00,333.45 L204.50,333.53 L205.00,333.18 L205.50,332.07 L206.00,332.77 L206.50,332.98 L207.00,332.63 L207.50,333.27 L208.00,332.62 L208.50,332.33 L209.00,333.51 L209.50,333.12 L210.00,332.89 L210.50,333.23 L211.00,333.29 L211.50,332.93 L212.00,331.52 L212.50,332.40 L213.00,332.51 L213.50,332.23 L214.00,332.82 L214.50,333.31 L215.00,332.46 L215.50,332.09 L216.00,333.29 L216.50,330.12 L217.00,326.28 L217.50,322.35 L218.00,317.17 L218.50,310.33 L219.00,303.78 L219.50,295.45 L220.00,289.27 L220.50,285.59 L221.00,283.39 L221.50,280.76 L222.00,280.77 L222.50,281.52 L223.00,284.81 L223.50,284.79 L224.00,287.47 L224.50,288.27 L225.00,289.74 L225.50,291.66 L226.00,293.25 L226.50,294.40 L227.00,294.23 L227.50,293.40 L228.00,292.93 L228.50,292.95 L229.00,292.49 L229.50,291.73 L230.00,289.24 L230.50,286.73 L231.00,283.96 L231.50,280.28 L232.00,276.46 L232.50,273.61 L233.00,269.05 L233.50,263.75 L234.00,253.33 L234.50,246.07 L235.00,239.30 L235.50,235.28 L236.00,230.33 L236.50,225.81 L237.00,222.85 L237.50,221.13 L238.00,219.73 L238.50,217.93 L239.00,216.90 L239.50,217.24 L240.00,215.92 L240.50,217.87 L241.00,218.27 L241.50,219.79 L242.00,221.09 L242.50,221.62 L243.00,223.06 L243.50,223.16 L244.00,226.05 L244.50,226.94 L245.00,229.29 L245.50,230.82 L246.00,231.18 L246.50,233.84 L247.00,236.07 L247.50,238.45 L248.00,239.34 L248.50,240.68 L249.00,241.05 L249.50,243.67 L250.00,245.07 L250.50,245.38 L251.00,246.46 L251.50,246.97 L252.00,249.43 L252.50,251.54 L253.00,251.75 L253.50,253.11 L254.00,253.71 L254.50,253.78 L255.00,255.78 L255.50,255.33 L256.00,256.67 L256.50,257.75 L257.00,258.89 L257.50,259.49 L258.00,260.32 L258.50,260.58 L259.00,261.15 L259.50,262.66 L260.00,263.03 L260.50,263.36 L261.00,263.88 L261.50,264.71 L262.00,264.47 L262.50,265.17 L263.00,265.47 L263.50,266.82 L264.00,267.38 L264.50,268.47 L265.00,266.74 L265.50,266.90 L266.00,267.35 L266.50,266.44 L267.00,266.03 L267.50,266.70 L268.00,265.45" fill="none" stroke="#00ff00" stroke-width="3.3" stroke-linejoin="round"/>
<path class="dat" d="M215.20,332.59 L215.70,332.56 L216.20,332.43 L216.70,332.15 L217.20,331.72 L217.70,331.24 L218.20,330.75 L218.70,330.26 L219.20,329.78 L219.70,329.28 L220.20,328.74 L220.70,328.17 L221.20,327.58 L221.70,326.99 L222.20,326.40 L222.70,325.81 L223.20,325.22 L223.70,324.63 L224.20,324.03 L224.70,323.42 L225.20,322.79 L225.70,322.16 L226.20,321.53 L226.70,320.90 L227.20,320.27 L227.70,319.64 L228.20,319.01 L228.70,318.40 L229.20,317.83 L229.70,317.30 L230.20,316.80 L230.70,316.30 L231.20,315.80 L231.70,315.30 L232.20,314.62 L232.70,313.77 L233.20,312.75 L233.70,311.72 L234.20,310.69 L234.70,309.67 L235.20,308.64 L235.70,307.55 L236.20,306.30 L236.70,304.88 L237.20,303.37 L237.70,301.86 L238.20,300.35 L238.70,298.83 L239.20,297.32 L239.70,295.81 L240.20,294.31 L240.70,292.82 L241.20,291.34 L241.70,289.86 L242.20,288.37 L242.70,286.96 L243.20,285.74 L243.70,284.71 L244.20,283.79 L244.70,282.87 L245.20,281.95 L245.70,281.03 L246.20,280.11 L246.70,279.29 L247.20,278.60 L247.70,278.04 L248.20,277.50 L248.70,276.96 L249.20,276.43 L249.70,275.89 L250.20,275.36 L250.70,274.84 L251.20,274.38 L251.70,273.97 L252.20,273.59 L252.70,273.21 L253.20,272.83 L253.70,272.46 L254.20,272.08 L254.70,271.70 L255.20,271.32 L255.70,270.94 L256.20,270.56 L256.70,270.18 L257.20,269.81 L257.70,269.46 L258.20,269.18 L258.70,268.97 L259.20,268.81 L259.70,268.64 L260.20,268.48 L260.70,268.31 L261.20,268.15 L261.70,267.98 L262.20,267.82 L262.70,267.65 L263.20,267.49 L263.70,267.32 L264.20,267.16 L264.70,267.00 L265.20,266.83 L265.70,266.63 L266.20,266.40 L266.70,266.15 L267.20,265.90 L267.70,265.73" fill="none" stroke="#00ff00" stroke-width="1.3"/>
<path class="dash" d="M215.50,332.66 L216.00,332.28 L216.50,330.35 L217.00,326.90 L217.50,322.23 L218.00,316.96 L218.50,310.68 L219.00,303.39 L219.50,295.69 L220.00,289.73 L220.50,285.50 L221.00,283.00 L221.50,281.08 L222.00,280.60 L222.50,281.57 L223.00,283.40 L223.50,285.14 L224.00,286.78 L224.50,288.30 L225.00,289.80 L225.50,291.30 L226.00,292.80 L226.50,293.77 L227.00,294.07 L227.50,293.70 L228.00,293.20 L228.50,292.70 L229.00,292.20 L229.50,291.03 L230.00,289.03 L230.50,286.20 L231.00,283.20 L231.50,280.20 L232.00,277.20 L232.50,274.20 L233.00,269.77 L233.50,262.95 L234.00,253.75 L234.50,245.45 L235.00,239.01 L235.50,234.42 L236.00,229.83 L236.50,225.87 L237.00,222.95 L237.50,221.09 L238.00,219.64 L238.50,218.20 L239.00,216.92 L239.50,216.44 L240.00,216.77 L240.50,217.74 L241.00,218.72 L241.50,219.69 L242.00,220.67 L242.50,221.64 L243.00,222.67 L243.50,223.95 L244.00,225.49 L244.50,227.24 L245.00,228.98 L245.50,230.73 L246.00,232.47 L246.50,234.22 L247.00,235.96 L247.50,237.67 L248.00,239.20 L248.50,240.55 L249.00,241.75 L249.50,242.96 L250.00,244.16 L250.50,245.37 L251.00,246.57 L251.50,247.78 L252.00,248.98 L252.50,250.19 L253.00,251.39 L253.50,252.48 L254.00,253.44 L254.50,254.27 L255.00,255.11 L255.50,255.94 L256.00,256.78 L256.50,257.61 L257.00,258.45 L257.50,259.29 L258.00,260.12 L258.50,260.96 L259.00,261.79 L259.50,262.63 L260.00,263.39 L260.50,264.01 L261.00,264.51 L261.50,264.96 L262.00,265.40 L262.50,265.84 L263.00,266.29 L263.50,266.73 L264.00,267.18 L264.50,267.46 L265.00,267.49 L265.50,267.24 L266.00,266.89 L266.50,266.55 L267.00,266.20 L267.50,265.85 L268.00,265.62" fill="none" stroke="#222" stroke-width="1.1" stroke-dasharray="2.6,2.9"/>
<path class="dash" d="M220,328.9 L224.2,318 L229,297.6 M224.8,297.6 L226,306 L229.6,316.3" fill="none" stroke="#222" stroke-width="1.0" stroke-dasharray="2.6,2.9"/>
<text class="txt" x="202.4" y="228.6" font-family="Liberation Sans" font-size="13.8" fill="#00ff00">FeO<tspan font-size="9" dy="3">x</tspan></text>
<text class="txt" x="188.5" y="271.5" font-family="Liberation Sans" font-size="13.8" fill="#00ff00">Fe2p<tspan font-size="8" dy="3.6">2/3</tspan></text>
<path class="dat" d="M272.00,332.81 L272.40,332.59 L272.80,334.15 L273.20,334.03 L273.60,332.26 L274.00,332.55 L274.40,333.98 L274.80,333.93 L275.20,332.62 L275.60,333.79 L276.00,333.65 L276.40,331.20 L276.80,332.58 L277.20,333.22 L277.60,332.13 L278.00,330.48 L278.40,332.24 L278.80,333.18 L279.20,333.92 L279.60,330.06 L280.00,334.77 L280.40,330.93 L280.80,332.93 L281.20,333.11 L281.60,332.77 L282.00,331.84 L282.40,330.44 L282.80,332.13 L283.20,330.70 L283.60,328.80 L284.00,334.06 L284.40,331.85 L284.80,332.84 L285.20,329.95 L285.60,332.11 L286.00,332.00 L286.40,331.72 L286.80,329.91 L287.20,328.49 L287.60,329.28 L288.00,327.02 L288.40,327.28 L288.80,328.84 L289.20,327.52 L289.60,328.11 L290.00,327.92 L290.40,329.73 L290.80,328.53 L291.20,326.19 L291.60,326.00 L292.00,322.47 L292.40,321.57 L292.80,320.52 L293.20,318.11 L293.60,316.55 L294.00,312.60 L294.40,308.05 L294.80,302.33 L295.20,295.06 L295.60,288.67 L296.00,279.58 L296.40,268.99 L296.80,258.51 L297.20,251.06 L297.60,246.59 L298.00,245.02 L298.40,247.28 L298.80,252.37 L299.20,256.03 L299.60,260.12 L300.00,263.12 L300.40,266.31 L300.80,269.64 L301.20,272.37 L301.60,274.64 L302.00,274.33 L302.40,273.06 L302.80,269.90 L303.20,267.64 L303.60,264.54 L304.00,262.19 L304.40,259.55 L304.80,256.05 L305.20,253.56 L305.60,250.79 L306.00,248.75 L306.40,246.41 L306.80,243.35 L307.20,240.16 L307.60,238.65 L308.00,235.88 L308.40,236.15 L308.80,234.51 L309.20,232.89 L309.60,234.28 L310.00,233.08 L310.40,231.26 L310.80,230.97 L311.20,230.04 L311.60,229.40 L312.00,228.09 L312.40,228.15 L312.80,228.76 L313.20,229.11 L313.60,229.96 L314.00,229.97 L314.40,231.33 L314.80,230.56 L315.20,231.41 L315.60,230.99 L316.00,231.72 L316.40,233.17 L316.80,232.61 L317.20,233.48 L317.60,233.49 L318.00,233.35 L318.40,233.49 L318.80,233.49 L319.20,233.77 L319.60,235.88 L320.00,236.33 L320.40,235.45 L320.80,236.27 L321.20,239.00 L321.60,238.63 L322.00,239.79 L322.40,241.33 L322.80,237.85 L323.20,236.04 L323.60,235.61 L324.00,234.49 L324.40,234.32 L324.80,234.09 L325.20,235.14 L325.60,235.47 L326.00,237.83 L326.40,236.73 L326.80,237.64 L327.20,236.71 L327.60,241.57 L328.00,240.39 L328.40,242.82 L328.80,241.84 L329.20,243.39 L329.60,241.29 L330.00,243.24 L330.40,246.77 L330.80,241.48 L331.20,245.74 L331.60,247.19 L332.00,245.95 L332.40,247.14 L332.80,248.58 L333.20,246.33 L333.60,248.63 L334.00,247.34 L334.40,248.31 L334.80,249.07 L335.20,250.47 L335.60,251.58 L336.00,252.72 L336.40,250.51 L336.80,256.36 L337.20,255.71 L337.60,255.67 L338.00,254.63 L338.40,255.66 L338.80,257.26 L339.20,257.67 L339.60,255.07 L340.00,259.41 L340.40,263.38 L340.80,256.67 L341.20,261.66 L341.60,261.32 L342.00,261.20 L342.40,264.03 L342.80,260.50 L343.20,262.83 L343.60,265.03 L344.00,262.66 L344.40,262.51 L344.80,263.52 L345.20,262.85 L345.60,266.10 L346.00,262.51 L346.40,265.45 L346.80,262.36 L347.20,265.51 L347.60,264.51 L348.00,260.81" fill="none" stroke="#0000ff" stroke-width="2.6" stroke-linejoin="round"/>
<path class="dat" d="M272.00,333.48 L272.50,333.47 L273.00,333.45 L273.50,333.42 L274.00,333.39 L274.50,333.37 L275.00,333.34 L275.50,333.31 L276.00,333.29 L276.50,333.26 L277.00,333.23 L277.50,333.21 L278.00,333.18 L278.50,333.15 L279.00,333.13 L279.50,333.10 L280.00,333.07 L280.50,333.05 L281.00,333.02 L281.50,332.99 L282.00,332.97 L282.50,332.94 L283.00,332.91 L283.50,332.89 L284.00,332.86 L284.50,332.83 L285.00,332.81 L285.50,332.78 L286.00,332.75 L286.50,332.71 L287.00,332.64 L287.50,332.55 L288.00,332.43 L288.50,332.30 L289.00,332.17 L289.50,332.00 L290.00,331.81 L290.50,331.58 L291.00,331.32 L291.50,331.03 L292.00,330.75 L292.50,330.46 L293.00,330.17 L293.50,329.88 L294.00,329.59 L294.50,329.25 L295.00,328.81 L295.50,328.27 L296.00,327.64 L296.50,326.91 L297.00,326.15 L297.50,325.38 L298.00,324.62 L298.50,323.85 L299.00,323.09 L299.50,322.32 L300.00,321.55 L300.50,320.76 L301.00,319.98 L301.50,319.18 L302.00,318.38 L302.50,317.58 L303.00,316.78 L303.50,315.98 L304.00,315.18 L304.50,314.38 L305.00,313.58 L305.50,312.77 L306.00,311.94 L306.50,311.08 L307.00,310.20 L307.50,309.30 L308.00,308.38 L308.50,307.46 L309.00,306.54 L309.50,305.63 L310.00,304.71 L310.50,303.79 L311.00,302.87 L311.50,301.95 L312.00,301.04 L312.50,300.13 L313.00,299.25 L313.50,298.37 L314.00,297.52 L314.50,296.68 L315.00,295.83 L315.50,294.99 L316.00,294.15 L316.50,293.31 L317.00,292.47 L317.50,291.63 L318.00,290.79 L318.50,289.96 L319.00,289.15 L319.50,288.37 L320.00,287.62 L320.50,286.89 L321.00,286.17 L321.50,285.46 L322.00,284.74 L322.50,284.03 L323.00,283.31 L323.50,282.60 L324.00,281.90 L324.50,281.25 L325.00,280.66 L325.50,280.13 L326.00,279.65 L326.50,279.22 L327.00,278.79 L327.50,278.35 L328.00,277.92 L328.50,277.49 L329.00,277.06 L329.50,276.63 L330.00,276.20 L330.50,275.76 L331.00,275.33 L331.50,274.90 L332.00,274.47 L332.50,274.04 L333.00,273.61 L333.50,273.21 L334.00,272.82 L334.50,272.45 L335.00,272.09 L335.50,271.74 L336.00,271.40 L336.50,271.05 L337.00,270.70 L337.50,270.35 L338.00,270.00 L338.50,269.65 L339.00,269.30 L339.50,268.95 L340.00,268.60 L340.50,268.26 L341.00,267.91 L341.50,267.58 L342.00,267.29 L342.50,267.05 L343.00,266.85 L343.50,266.69 L344.00,266.57 L344.50,266.44 L345.00,266.31 L345.50,266.19 L346.00,266.06 L346.50,265.93 L347.00,265.81 L347.50,265.70 L348.00,265.63" fill="none" stroke="#0000ff" stroke-width="1.5"/>
<path class="dash" d="M297.8,258 L298.2,266 L300.1,287.5 L300.7,310.8 L302,320M291.5,331 L294.5,324 L296.8,306 L298.3,290 L299.2,281M292.6,328 L294.7,321.1 L297.7,306.5 L299,299.6 L300.3,288.4 L301,275 L302.5,262 L304.5,250 L308.3,243.2 L311.8,253 L316,262.8 L320.9,274.7 L327.2,272.6 L335.6,268.4 L342.6,265.6M302,318 L304.2,313.4 L306.3,307.4 L309.8,298.8 L312.8,285 L314.6,277.9 L317.3,268.2 L318.8,257.2 L323,240.4 L324.5,237" fill="none" stroke="#333" stroke-width="0.95" stroke-dasharray="2.6,2.9"/>
<path class="dash" d="M272.00,333.97 L272.40,333.91 L272.80,333.82 L273.20,333.72 L273.60,333.63 L274.00,333.54 L274.40,333.45 L274.80,333.35 L275.20,333.26 L275.60,333.17 L276.00,333.08 L276.40,332.98 L276.80,332.89 L277.20,332.80 L277.60,332.71 L278.00,332.62 L278.40,332.52 L278.80,332.43 L279.20,332.34 L279.60,332.25 L280.00,332.15 L280.40,332.06 L280.80,331.97 L281.20,331.88 L281.60,331.78 L282.00,331.69 L282.40,331.60 L282.80,331.51 L283.20,331.42 L283.60,331.32 L284.00,331.23 L284.40,331.14 L284.80,331.02 L285.20,330.86 L285.60,330.64 L286.00,330.41 L286.40,330.17 L286.80,329.93 L287.20,329.69 L287.60,329.46 L288.00,329.22 L288.40,328.98 L288.80,328.75 L289.20,328.51 L289.60,328.27 L290.00,328.03 L290.40,327.80 L290.80,327.23 L291.20,326.23 L291.60,324.79 L292.00,323.25 L292.40,321.70 L292.80,320.15 L293.20,318.61 L293.60,316.66 L294.00,313.13 L294.40,308.00 L294.80,301.68 L295.20,295.36 L295.60,288.58 L296.00,279.94 L296.40,269.45 L296.80,259.01 L297.20,250.48 L297.60,245.64 L298.00,244.83 L298.40,247.57 L298.80,252.09 L299.20,256.16 L299.60,259.80 L300.00,263.00 L300.40,266.20 L300.80,269.40 L301.20,272.60 L301.60,274.80 L302.00,275.02 L302.40,273.24 L302.80,270.47 L303.20,267.69 L303.60,264.92 L304.00,262.15 L304.40,259.37 L304.80,256.62 L305.20,253.88 L305.60,251.17 L306.00,248.45 L306.40,245.73 L306.80,243.01 L307.20,240.30 L307.60,238.07 L308.00,236.48 L308.40,235.55 L308.80,234.77 L309.20,234.00 L309.60,233.22 L310.00,232.45 L310.40,231.68 L310.80,230.90 L311.20,230.13 L311.60,229.35 L312.00,228.68 L312.40,228.42 L312.80,228.57 L313.20,229.03 L313.60,229.48 L314.00,229.94 L314.40,230.39 L314.80,230.85 L315.20,231.30 L315.60,231.76 L316.00,232.22 L316.40,232.64 L316.80,232.99 L317.20,233.27 L317.60,233.52 L318.00,233.76 L318.40,234.01 L318.80,234.26 L319.20,234.51 L319.60,234.75 L320.00,235.36 L320.40,236.31 L320.80,237.63 L321.20,238.57 L321.60,238.78 L322.00,238.25 L322.40,237.35 L322.80,236.58 L323.20,236.09 L323.60,235.86 L324.00,235.77 L324.40,235.68 L324.80,235.59 L325.20,235.73 L325.60,236.11 L326.00,236.72 L326.40,237.33 L326.80,237.93 L327.20,238.53 L327.60,239.10 L328.00,239.63 L328.40,240.14 L328.80,240.65 L329.20,241.15 L329.60,241.66 L330.00,242.17 L330.40,242.71 L330.80,243.32 L331.20,243.97 L331.60,244.65 L332.00,245.32 L332.40,245.99 L332.80,246.66 L333.20,247.33 L333.60,248.00 L334.00,248.67 L334.40,249.34 L334.80,250.02 L335.20,250.69 L335.60,251.36 L336.00,252.03 L336.40,252.68 L336.80,253.32 L337.20,253.94 L337.60,254.56 L338.00,255.18 L338.40,255.80 L338.80,256.42 L339.20,257.04 L339.60,257.65 L340.00,258.27 L340.40,258.89 L340.80,259.51 L341.20,260.13 L341.60,260.75 L342.00,261.37 L342.40,261.92 L342.80,262.32 L343.20,262.58 L343.60,262.77 L344.00,262.96 L344.40,263.15 L344.80,263.34 L345.20,263.53 L345.60,263.72 L346.00,263.91 L346.40,264.10 L346.80,264.29 L347.20,264.48 L347.60,264.67 L348.00,264.79" fill="none" stroke="#222" stroke-width="0.9" stroke-dasharray="2.6,2.9"/>
<text class="txt" x="263.6" y="236.5" font-family="Liberation Sans" font-size="13.8" fill="#0000ff">Co2p<tspan font-size="8.5" dy="2.8">2/3</tspan></text>
<text class="txt" x="299.8" y="225.2" font-family="Liberation Sans" font-size="13.8" fill="#0000ff">CoO<tspan font-size="9" dy="3">x</tspan></text>
<rect class="ax" x="36.7" y="211.6" width="313.6" height="132.6" fill="none" stroke="#000" stroke-width="1.5"/>
<path class="ax" d="M114.6,211.6V344.2M192.8,211.6V344.2M271.4,211.6V344.2M50.2,344.2v-3M50.2,211.6v3M93.4,344.2v-3M93.4,211.6v3M137.4,344.2v-3M137.4,211.6v3M183.4,344.2v-3M183.4,211.6v3M214.7,344.2v-3M214.7,211.6v3M258.6,344.2v-3M258.6,211.6v3M305,344.2v-3M305,211.6v3M342.7,344.2v-3M342.7,211.6v3" stroke="#000" stroke-width="1.4" fill="none"/>
<text class="txt" x="53.8" y="362.3" font-family="Liberation Sans" font-size="17.8" text-anchor="middle" fill="#000" >22</text>
<text class="txt" x="95.0" y="362.3" font-family="Liberation Sans" font-size="17.8" text-anchor="middle" fill="#000" >28</text>
<text class="txt" x="136.3" y="362.3" font-family="Liberation Sans" font-size="17.8" text-anchor="middle" fill="#000" >185</text>
<text class="txt" x="181.0" y="362.3" font-family="Liberation Sans" font-size="17.8" text-anchor="middle" fill="#000" >195</text>
<text class="txt" x="216.6" y="362.3" font-family="Liberation Sans" font-size="17.8" text-anchor="middle" fill="#000" >705</text>
<text class="txt" x="256.3" y="362.3" font-family="Liberation Sans" font-size="17.8" text-anchor="middle" fill="#000" >715</text>
<text class="txt" x="303.9" y="362.3" font-family="Liberation Sans" font-size="17.8" text-anchor="middle" fill="#000" >780</text>
<text class="txt" x="342.3" y="362.3" font-family="Liberation Sans" font-size="17.8" text-anchor="middle" fill="#000" >790</text>
<text class="txt" x="194.5" y="386.8" font-family="Liberation Sans" font-size="17.7" text-anchor="middle" fill="#000" >Binding Energy (eV)</text>
<text class="txt" x="0" y="207" font-family="Liberation Sans" font-size="26" text-anchor="start" fill="#000" >(<tspan font-size="23.5">b</tspan>)</text>
<text class="txt" transform="translate(17.3,336.8) rotate(-90)" font-family="Liberation Sans" font-size="17.7" text-anchor="start" fill="#000">Norm. Intensity</text>
<path class="dat" d="M44.50,426.50 L45.00,426.20 L45.50,426.13 L46.00,426.23 L46.50,425.59 L47.00,425.36 L47.50,425.51 L48.00,425.08 L48.50,425.11 L49.00,424.76 L49.50,424.44 L50.00,424.48 L50.50,424.62 L51.00,424.55 L51.50,424.40 L52.00,424.41 L52.50,424.38 L53.00,424.31 L53.50,424.70 L54.00,424.45 L54.50,424.36 L55.00,424.60 L55.50,424.97 L56.00,425.19 L56.50,425.35 L57.00,425.59 L57.50,426.01 L58.00,426.08 L58.50,426.53 L59.00,427.34 L59.50,427.70 L60.00,428.47 L60.50,429.32 L61.00,430.03 L61.50,430.81 L62.00,432.02 L62.50,432.67 L63.00,433.50 L63.50,434.76 L64.00,435.92 L64.50,437.04 L65.00,438.62 L65.50,440.12 L66.00,441.47 L66.50,443.33 L67.00,444.83 L67.50,446.28 L68.00,447.14 L68.50,447.97 L69.00,448.23 L69.50,448.06 L70.00,447.31 L70.50,446.69 L71.00,445.26 L71.50,444.38 L72.00,443.69 L72.50,442.56 L73.00,441.88 L73.50,441.53 L74.00,440.79 L74.50,440.30 L75.00,439.89 L75.50,439.59 L76.00,438.73 L76.50,438.64 L77.00,438.38 L77.50,438.19 L78.00,438.12 L78.50,438.07 L79.00,438.25 L79.50,438.10 L80.00,438.34 L80.50,438.51 L81.00,438.51 L81.50,438.86 L82.00,439.32 L82.50,439.36 L83.00,439.49 L83.50,439.93 L84.00,440.23 L84.50,440.91 L85.00,441.58 L85.50,441.98 L86.00,442.80 L86.50,443.76 L87.00,444.27 L87.50,445.14 L88.00,445.71 L88.50,446.50 L89.00,447.32 L89.50,448.50 L90.00,448.89 L90.50,449.66 L91.00,450.45 L91.50,451.31 L92.00,452.23 L92.50,452.97 L93.00,454.05 L93.50,454.58 L94.00,455.55 L94.50,456.10 L95.00,456.81 L95.50,457.09 L96.00,457.82 L96.50,458.22 L97.00,458.44 L97.50,458.26 L98.00,458.74 L98.50,458.48 L99.00,458.33 L99.50,458.13 L100.00,457.89 L100.50,457.74 L101.00,457.27 L101.50,457.11 L102.00,457.11 L102.50,456.93 L103.00,456.72 L103.50,456.58 L104.00,456.45 L104.50,456.54 L105.00,456.77 L105.50,456.55 L106.00,457.12 L106.50,457.28 L107.00,457.42 L107.50,458.01 L108.00,458.09 L108.50,458.46 L109.00,458.95 L109.50,459.50 L110.00,459.93 L110.50,460.32 L111.00,460.85 L111.50,461.01 L112.00,461.95 L112.50,462.27 L113.00,463.05 L113.50,463.80 L114.00,464.46 L114.50,465.23 L115.00,466.09 L115.50,467.04 L116.00,467.93 L116.50,468.73 L117.00,469.27 L117.50,470.04 L118.00,470.74 L118.50,471.63 L119.00,471.92 L119.50,473.04 L120.00,473.39 L120.50,473.77 L121.00,474.17 L121.50,474.32 L122.00,474.08 L122.50,473.85 L123.00,473.19 L123.50,472.70 L124.00,472.10 L124.50,471.36 L125.00,471.12 L125.50,470.51 L126.00,470.15 L126.50,469.71 L127.00,469.53 L127.50,469.42 L128.00,468.83 L128.50,468.84 L129.00,468.52 L129.50,468.24 L130.00,467.61 L130.50,467.73 L131.00,467.71 L131.50,467.42 L132.00,467.53 L132.50,467.20 L133.00,467.75 L133.50,467.68 L134.00,468.05 L134.50,467.77 L135.00,468.28 L135.50,468.28 L136.00,468.57 L136.50,468.44 L137.00,468.65 L137.50,469.29 L138.00,469.09 L138.50,469.40 L139.00,469.81 L139.50,470.09 L140.00,470.85 L140.50,471.37 L141.00,471.45 L141.50,471.74 L142.00,472.61 L142.50,473.04 L143.00,473.44 L143.50,473.93 L144.00,474.09 L144.50,474.67 L145.00,474.98 L145.50,475.48 L146.00,476.37 L146.50,476.65 L147.00,477.55 L147.50,477.55 L148.00,477.66 L148.50,477.97 L149.00,478.10 L149.50,477.76 L150.00,477.25 L150.50,477.21 L151.00,477.09 L151.50,476.51 L152.00,476.18 L152.50,476.21 L153.00,475.80 L153.50,475.33 L154.00,475.24 L154.50,474.96 L155.00,474.98 L155.50,474.77 L156.00,474.82 L156.50,474.57 L157.00,473.91 L157.50,474.18 L158.00,474.15 L158.50,473.95 L159.00,474.05 L159.50,473.66 L160.00,473.61 L160.50,474.17 L161.00,473.80 L161.50,473.68 L162.00,474.69 L162.50,474.39 L163.00,474.67 L163.50,474.53 L164.00,474.71 L164.50,474.93 L165.00,475.33 L165.50,475.72 L166.00,475.07 L166.50,476.18 L167.00,475.74 L167.50,475.94 L168.00,476.70 L168.50,476.71 L169.00,476.51 L169.50,478.04 L170.00,477.52 L170.50,478.38 L171.00,478.90 L171.50,479.91 L172.00,479.80 L172.50,480.91 L173.00,480.82 L173.50,482.10 L174.00,481.94 L174.50,482.66 L175.00,484.13 L175.50,484.05 L176.00,484.50 L176.50,485.90 L177.00,485.62 L177.50,485.59 L178.00,486.71 L178.50,486.31 L179.00,487.74 L179.50,488.20 L180.00,487.83 L180.50,488.22 L181.00,489.01 L181.50,489.26 L182.00,489.02 L182.50,489.88 L183.00,488.67 L183.50,489.37 L184.00,489.22 L184.50,489.02 L185.00,489.05 L185.50,488.01 L186.00,488.67 L186.50,488.01 L187.00,487.51 L187.50,486.87 L188.00,486.73 L188.50,487.34 L189.00,486.45 L189.50,486.87 L190.00,487.30 L190.50,487.20 L191.00,487.45 L191.50,486.35 L192.00,485.84 L192.50,486.99 L193.00,486.52 L193.50,486.94 L194.00,486.24 L194.50,486.88 L195.00,486.62 L195.50,486.50 L196.00,486.35 L196.50,486.30 L197.00,486.23 L197.50,486.30 L198.00,486.88 L198.50,486.05 L199.00,487.64 L199.50,486.61 L200.00,487.47 L200.50,486.92 L201.00,486.97 L201.50,488.63 L202.00,487.22 L202.50,486.72 L203.00,487.24 L203.50,487.66 L204.00,489.52 L204.50,488.33 L205.00,489.01 L205.50,487.84 L206.00,489.00 L206.50,489.46 L207.00,490.52 L207.50,488.98 L208.00,490.20 L208.50,490.25 L209.00,489.55 L209.50,490.57 L210.00,490.66 L210.50,489.38 L211.00,491.86 L211.50,492.10 L212.00,491.62 L212.50,491.20 L213.00,493.66 L213.50,492.99 L214.00,493.86 L214.50,494.45 L215.00,493.18 L215.50,494.51 L216.00,493.93 L216.50,494.33 L217.00,494.57 L217.50,494.90 L218.00,496.09 L218.50,495.52 L219.00,495.55 L219.50,495.71 L220.00,496.49 L220.50,495.69 L221.00,496.29 L221.50,496.92 L222.00,496.72 L222.50,497.34 L223.00,497.12 L223.50,499.63 L224.00,499.24 L224.50,498.64 L225.00,498.36 L225.50,500.57 L226.00,499.06 L226.50,498.84 L227.00,499.32 L227.50,499.40 L228.00,500.45 L228.50,499.11 L229.00,501.05 L229.50,498.14 L230.00,499.51 L230.50,497.77 L231.00,500.34 L231.50,498.16 L232.00,498.29 L232.50,499.13 L233.00,499.33 L233.50,496.88 L234.00,497.51 L234.50,496.36 L235.00,497.77 L235.50,497.43 L236.00,497.09 L236.50,496.66 L237.00,496.88 L237.50,496.42 L238.00,497.65 L238.50,498.59 L239.00,494.94 L239.50,496.74 L240.00,496.34 L240.50,497.23 L241.00,495.65 L241.50,496.48 L242.00,495.52 L242.50,497.39 L243.00,496.79 L243.50,496.56 L244.00,497.21 L244.50,496.60 L245.00,495.23 L245.50,497.66 L246.00,497.39 L246.50,496.96 L247.00,498.31 L247.50,498.64 L248.00,496.10 L248.50,496.51 L249.00,499.26 L249.50,499.25 L250.00,496.92 L250.50,496.59 L251.00,497.43 L251.50,497.83 L252.00,496.85 L252.50,499.03 L253.00,497.79 L253.50,498.18 L254.00,501.03 L254.50,499.45 L255.00,500.51 L255.50,501.69 L256.00,502.25 L256.50,501.19 L257.00,501.99 L257.50,501.26 L258.00,504.75 L258.50,503.74 L259.00,501.90 L259.50,503.61 L260.00,504.80 L260.50,504.80 L261.00,506.76 L261.50,506.43 L262.00,504.22 L262.50,504.99 L263.00,503.63 L263.50,505.75 L264.00,505.77 L264.50,509.17 L265.00,505.84 L265.50,502.99 L266.00,504.80 L266.50,505.74 L267.00,503.80 L267.50,504.16 L268.00,504.67 L268.50,505.47 L269.00,504.64 L269.50,503.51 L270.00,505.62 L270.50,503.68 L271.00,503.59 L271.50,502.26 L272.00,502.95 L272.50,504.82 L273.00,501.61 L273.50,503.67 L274.00,504.71 L274.50,503.14 L275.00,503.95 L275.50,501.99 L276.00,505.36 L276.50,505.02 L277.00,503.74 L277.50,500.86 L278.00,501.81 L278.50,504.66 L279.00,505.67 L279.50,503.58 L280.00,504.91 L280.50,502.17 L281.00,502.75 L281.50,503.02 L282.00,503.66 L282.50,500.82 L283.00,504.53 L283.50,505.18 L284.00,501.61 L284.50,501.41 L285.00,504.06 L285.50,502.66 L286.00,500.17 L286.50,505.08 L287.00,504.20 L287.50,503.34 L288.00,507.41 L288.50,504.49 L289.00,503.27 L289.50,504.78 L290.00,503.24 L290.50,503.94 L291.00,506.04 L291.50,504.91 L292.00,505.45 L292.50,509.16 L293.00,508.25 L293.50,508.52 L294.00,508.44 L294.50,508.72 L295.00,510.63 L295.50,508.62 L296.00,511.99 L296.50,507.81 L297.00,509.29 L297.50,507.81 L298.00,509.78 L298.50,511.43 L299.00,513.14 L299.50,509.80 L300.00,510.97 L300.50,510.38 L301.00,509.71 L301.50,508.91 L302.00,510.95 L302.50,507.91 L303.00,510.95 L303.50,510.76 L304.00,509.57 L304.50,508.93 L305.00,508.25 L305.50,513.75 L306.00,508.22 L306.50,513.12 L307.00,511.41 L307.50,509.66 L308.00,508.18 L308.50,511.87 L309.00,512.93 L309.50,508.14 L310.00,509.10 L310.50,511.31 L311.00,509.91 L311.50,512.67 L312.00,508.02 L312.50,509.82 L313.00,506.54 L313.50,512.32 L314.00,507.35 L314.50,504.79 L315.00,508.53 L315.50,508.65 L316.00,512.45 L316.50,508.76 L317.00,509.58 L317.50,510.89 L318.00,512.88 L318.50,510.24 L319.00,512.42 L319.50,511.76 L320.00,510.58 L320.50,511.45 L321.00,511.56 L321.50,510.09 L322.00,513.96 L322.50,509.54 L323.00,514.12 L323.50,513.82 L324.00,512.07 L324.50,510.98 L325.00,512.00 L325.50,513.31 L326.00,513.87 L326.50,513.15 L327.00,514.47 L327.50,511.84 L328.00,513.31 L328.50,510.23 L329.00,514.37 L329.50,513.35" fill="none" stroke="#000" stroke-width="3.4" stroke-linejoin="round" stroke-linecap="round"/>
<path class="dat" d="M240.50,494.42 L241.00,498.07 L241.50,495.95 L242.00,499.45 L242.50,497.17 L243.00,496.46 L243.50,498.07 L244.00,497.44 L244.50,496.16 L245.00,497.79 L245.50,496.39 L246.00,494.92 L246.50,499.57 L247.00,496.78 L247.50,496.54 L248.00,497.74 L248.50,495.53 L249.00,495.87 L249.50,497.02 L250.00,497.15 L250.50,498.04 L251.00,499.51 L251.50,497.85 L252.00,499.29 L252.50,499.72 L253.00,498.00 L253.50,499.89 L254.00,498.80 L254.50,501.54 L255.00,501.15 L255.50,500.95 L256.00,499.66 L256.50,501.74 L257.00,501.01 L257.50,503.11 L258.00,502.46 L258.50,501.96 L259.00,504.38 L259.50,504.47 L260.00,503.20 L260.50,505.59 L261.00,504.10 L261.50,504.32 L262.00,505.06 L262.50,504.20 L263.00,504.74 L263.50,505.24 L264.00,507.41 L264.50,507.47 L265.00,505.41 L265.50,507.65 L266.00,505.63 L266.50,506.05 L267.00,506.52 L267.50,505.66 L268.00,508.06 L268.50,505.30 L269.00,503.42 L269.50,506.28 L270.00,504.07 L270.50,504.04 L271.00,500.68 L271.50,505.34 L272.00,505.01 L272.50,504.89 L273.00,505.02 L273.50,505.80 L274.00,503.66 L274.50,504.79 L275.00,502.72 L275.50,503.14 L276.00,504.78 L276.50,503.93 L277.00,501.81 L277.50,503.79 L278.00,503.09 L278.50,502.27 L279.00,503.73 L279.50,502.67 L280.00,501.22 L280.50,501.72 L281.00,505.15 L281.50,501.20 L282.00,503.30 L282.50,503.81 L283.00,503.90 L283.50,501.75 L284.00,502.94 L284.50,503.60 L285.00,504.50 L285.50,502.87 L286.00,502.35 L286.50,505.06 L287.00,505.29 L287.50,504.51 L288.00,503.44 L288.50,504.77 L289.00,504.56 L289.50,505.62 L290.00,503.35 L290.50,505.27 L291.00,505.24 L291.50,504.45 L292.00,506.42 L292.50,506.57 L293.00,506.40 L293.50,507.73 L294.00,505.90 L294.50,507.89 L295.00,508.82 L295.50,508.99 L296.00,510.29 L296.50,507.91 L297.00,507.89 L297.50,510.34 L298.00,510.89 L298.50,513.13 L299.00,511.50 L299.50,509.84 L300.00,511.93 L300.50,509.96 L301.00,509.15 L301.50,514.02 L302.00,511.24 L302.50,511.67 L303.00,511.44 L303.50,512.90 L304.00,511.02 L304.50,512.10 L305.00,509.37 L305.50,508.89 L306.00,512.23 L306.50,512.22 L307.00,510.99 L307.50,510.56 L308.00,510.38 L308.50,509.23 L309.00,511.77 L309.50,510.56 L310.00,510.23 L310.50,509.92 L311.00,510.58 L311.50,509.78 L312.00,509.91 L312.50,507.47 L313.00,509.34 L313.50,511.27 L314.00,508.00 L314.50,508.50 L315.00,509.82 L315.50,510.04 L316.00,509.85 L316.50,507.41 L317.00,510.20 L317.50,508.43 L318.00,509.11 L318.50,511.01 L319.00,510.25 L319.50,511.82 L320.00,514.87 L320.50,512.25 L321.00,512.38 L321.50,510.61 L322.00,511.07 L322.50,510.69 L323.00,511.43 L323.50,510.84 L324.00,511.44 L324.50,512.07 L325.00,511.20 L325.50,510.78 L326.00,510.93 L326.50,513.19 L327.00,512.81 L327.50,514.05 L328.00,514.15 L328.50,512.56 L329.00,513.84 L329.50,511.35" fill="none" stroke="#000" stroke-width="3" stroke-linejoin="round" stroke-linecap="round"/>
<path class="dat" d="M44.50,426.44 L45.00,426.31 L45.50,426.15 L46.00,425.97 L46.50,425.76 L47.00,425.53 L47.50,425.30 L48.00,425.09 L48.50,424.92 L49.00,424.77 L49.50,424.64 L50.00,424.54 L50.50,424.47 L51.00,424.42 L51.50,424.40 L52.00,424.40 L52.50,424.40 L53.00,424.40 L53.50,424.44 L54.00,424.51 L54.50,424.61 L55.00,424.76 L55.50,424.94 L56.00,425.15 L56.50,425.40 L57.00,425.69 L57.50,426.01 L58.00,426.40 L58.50,426.84 L59.00,427.35 L59.50,427.92 L60.00,428.55 L60.50,429.24 L61.00,430.00 L61.50,430.81 L62.00,431.69 L62.50,432.65 L63.00,433.70 L63.50,434.84 L64.00,436.05 L64.50,437.36 L65.00,438.75 L65.50,440.22 L66.00,441.73 L66.50,443.28 L67.00,444.78 L67.50,445.96 L68.00,446.82 L68.50,447.35 L69.00,447.56 L69.50,447.44 L70.00,447.02 L70.50,446.41 L71.00,445.60 L71.50,444.60 L72.00,443.68 L72.50,442.85 L73.00,442.10 L73.50,441.43 L74.00,440.85 L74.50,440.36 L75.00,439.92 L75.50,439.52 L76.00,439.18 L76.50,438.88 L77.00,438.63 L77.50,438.43 L78.00,438.30 L78.50,438.25 L79.00,438.27 L79.50,438.32 L80.00,438.40 L80.50,438.52 L81.00,438.67 L81.50,438.85 L82.00,439.07 L82.50,439.34 L83.00,439.67 L83.50,440.05 L84.00,440.50 L84.50,441.00 L85.00,441.56 L85.50,442.18 L86.00,442.86 L86.50,443.59 L87.00,444.35 L87.50,445.11 L88.00,445.87 L88.50,446.64 L89.00,447.41 L89.50,448.18 L90.00,448.96 L90.50,449.75 L91.00,450.54 L91.50,451.34 L92.00,452.14 L92.50,452.94 L93.00,453.74 L93.50,454.54 L94.00,455.28 L94.50,455.97 L95.00,456.61 L95.50,457.20 L96.00,457.68 L96.50,458.05 L97.00,458.30 L97.50,458.43 L98.00,458.46 L98.50,458.43 L99.00,458.32 L99.50,458.16 L100.00,457.93 L100.50,457.70 L101.00,457.48 L101.50,457.29 L102.00,457.11 L102.50,456.95 L103.00,456.81 L103.50,456.68 L104.00,456.62 L104.50,456.63 L105.00,456.71 L105.50,456.83 L106.00,457.01 L106.50,457.25 L107.00,457.55 L107.50,457.90 L108.00,458.31 L108.50,458.72 L109.00,459.14 L109.50,459.56 L110.00,459.98 L110.50,460.41 L111.00,460.89 L111.50,461.41 L112.00,461.97 L112.50,462.58 L113.00,463.23 L113.50,463.92 L114.00,464.66 L114.50,465.44 L115.00,466.24 L115.50,467.04 L116.00,467.84 L116.50,468.62 L117.00,469.38 L117.50,470.11 L118.00,470.83 L118.50,471.52 L119.00,472.19 L119.50,472.84 L120.00,473.32 L120.50,473.64 L121.00,473.81 L121.50,473.83 L122.00,473.71 L122.50,473.44 L123.00,473.06 L123.50,472.59 L124.00,472.01 L124.50,471.49 L125.00,471.01 L125.50,470.58 L126.00,470.19 L126.50,469.86 L127.00,469.57 L127.50,469.30 L128.00,469.02 L128.50,468.75 L129.00,468.47 L129.50,468.21 L130.00,468.00 L130.50,467.83 L131.00,467.71 L131.50,467.63 L132.00,467.60 L132.50,467.62 L133.00,467.68 L133.50,467.78 L134.00,467.91 L134.50,468.05 L135.00,468.18 L135.50,468.31 L136.00,468.44 L136.50,468.60 L137.00,468.80 L137.50,469.03 L138.00,469.29 L138.50,469.58 L139.00,469.92 L139.50,470.28 L140.00,470.68 L140.50,471.11 L141.00,471.55 L141.50,471.99 L142.00,472.43 L142.50,472.87 L143.00,473.32 L143.50,473.78 L144.00,474.24 L144.50,474.72 L145.00,475.22 L145.50,475.72 L146.00,476.23 L146.50,476.69 L147.00,477.06 L147.50,477.35 L148.00,477.55 L148.50,477.65 L149.00,477.66 L149.50,477.59 L150.00,477.41 L150.50,477.15 L151.00,476.87 L151.50,476.59 L152.00,476.32 L152.50,476.05 L153.00,475.80 L153.50,475.57 L154.00,475.34 L154.50,475.13 L155.00,474.94 L155.50,474.75 L156.00,474.58 L156.50,474.42 L157.00,474.25 L157.50,474.10 L158.00,473.99 L158.50,473.92 L159.00,473.88 L159.50,473.88 L160.00,473.92 L160.50,473.99 L161.00,474.10 L161.50,474.25 L162.00,474.42 L162.50,474.59 L163.00,474.76 L163.50,474.93 L164.00,475.10 L164.50,475.27 L165.00,475.44 L165.50,475.61 L166.00,475.78 L166.50,475.95 L167.00,476.12 L167.50,476.31 L168.00,476.54 L168.50,476.81 L169.00,477.13 L169.50,477.50 L170.00,477.91 L170.50,478.36 L171.00,478.86 L171.50,479.40 L172.00,479.96 L172.50,480.53 L173.00,481.10 L173.50,481.67 L174.00,482.24 L174.50,482.80 L175.00,483.36 L175.50,483.90 L176.00,484.43 L176.50,484.94 L177.00,485.43 L177.50,485.91 L178.00,486.37 L178.50,486.81 L179.00,487.24 L179.50,487.67 L180.00,488.09 L180.50,488.51 L181.00,488.86 L181.50,489.13 L182.00,489.32 L182.50,489.44 L183.00,489.48 L183.50,489.45 L184.00,489.34 L184.50,489.15 L185.00,488.89 L185.50,488.63 L186.00,488.37 L186.50,488.11 L187.00,487.85 L187.50,487.61 L188.00,487.39 L188.50,487.20 L189.00,487.03 L189.50,486.88 L190.00,486.75 L190.50,486.65 L191.00,486.57 L191.50,486.52 L192.00,486.46 L192.50,486.40 L193.00,486.34 L193.50,486.29 L194.00,486.23 L194.50,486.17 L195.00,486.12 L195.50,486.09 L196.00,486.09 L196.50,486.10 L197.00,486.14 L197.50,486.20 L198.00,486.29 L198.50,486.40 L199.00,486.53 L199.50,486.68 L200.00,486.83 L200.50,486.98 L201.00,487.13 L201.50,487.28 L202.00,487.43 L202.50,487.58 L203.00,487.73 L203.50,487.88 L204.00,488.03 L204.50,488.20 L205.00,488.38 L205.50,488.57 L206.00,488.78 L206.50,489.01 L207.00,489.24 L207.50,489.49 L208.00,489.76 L208.50,490.03 L209.00,490.31 L209.50,490.58 L210.00,490.86 L210.50,491.13 L211.00,491.41 L211.50,491.68 L212.00,491.96 L212.50,492.23 L213.00,492.51 L213.50,492.78 L214.00,493.05 L214.50,493.32 L215.00,493.59 L215.50,493.85 L216.00,494.12 L216.50,494.38 L217.00,494.64 L217.50,494.90 L218.00,495.16 L218.50,495.42 L219.00,495.68 L219.50,495.94 L220.00,496.20 L220.50,496.46 L221.00,496.71 L221.50,496.96 L222.00,497.19 L222.50,497.42 L223.00,497.64 L223.50,497.84 L224.00,498.04 L224.50,498.23 L225.00,498.41 L225.50,498.59 L226.00,498.75 L226.50,498.88 L227.00,498.98 L227.50,499.04 L228.00,499.07 L228.50,499.06 L229.00,499.03 L229.50,498.95 L230.00,498.85 L230.50,498.72 L231.00,498.60 L231.50,498.48 L232.00,498.35 L232.50,498.23 L233.00,498.10 L233.50,498.00 L234.00,497.91 L234.50,497.85 L235.00,497.81 L235.50,497.78 L236.00,497.78 L236.50,497.80 L237.00,497.84 L237.50,497.90 L238.00,497.96 L238.50,498.02 L239.00,498.07 L239.50,498.11 L240.00,498.15 L240.50,498.19 L241.00,498.22 L241.50,498.25 L242.00,498.27 L242.50,498.29 L243.00,498.31 L243.50,498.32 L244.00,498.34 L244.50,498.36 L245.00,498.38 L245.50,498.40 L246.00,498.41 L246.50,498.43 L247.00,498.47 L247.50,498.51 L248.00,498.56 L248.50,498.63 L249.00,498.70 L249.50,498.79 L250.00,498.89 L250.50,499.00 L251.00,499.12 L251.50,499.24 L252.00,499.36 L252.50,499.48 L253.00,499.60 L253.50,499.71 L254.00,499.83 L254.50,499.95 L255.00,500.07 L255.50,500.20 L256.00,500.32 L256.50,500.46 L257.00,500.59 L257.50,500.73 L258.00,500.87 L258.50,501.02 L259.00,501.17 L259.50,501.32 L260.00,501.47 L260.50,501.62 L261.00,501.77 L261.50,501.93 L262.00,502.08 L262.50,502.23 L263.00,502.38 L263.50,502.53 L264.00,502.69 L264.50,502.84 L265.00,502.99 L265.50,503.14 L266.00,503.29 L266.50,503.44 L267.00,503.59 L267.50,503.73 L268.00,503.87 L268.50,504.01 L269.00,504.14 L269.50,504.27 L270.00,504.40 L270.50,504.52 L271.00,504.65 L271.50,504.77 L272.00,504.90 L272.50,505.02 L273.00,505.15 L273.50,505.27 L274.00,505.40 L274.50,505.52 L275.00,505.64 L275.50,505.75 L276.00,505.84 L276.50,505.94 L277.00,506.02 L277.50,506.09 L278.00,506.16 L278.50,506.22 L279.00,506.27 L279.50,506.32 L280.00,506.37 L280.50,506.42 L281.00,506.47 L281.50,506.52 L282.00,506.58 L282.50,506.63 L283.00,506.68 L283.50,506.73 L284.00,506.78 L284.50,506.83 L285.00,506.89 L285.50,506.94 L286.00,506.99 L286.50,507.04 L287.00,507.09 L287.50,507.14 L288.00,507.19 L288.50,507.25 L289.00,507.30 L289.50,507.36 L290.00,507.42 L290.50,507.48 L291.00,507.54 L291.50,507.60 L292.00,507.66 L292.50,507.73 L293.00,507.79 L293.50,507.86 L294.00,507.92 L294.50,507.99 L295.00,508.06 L295.50,508.12 L296.00,508.19 L296.50,508.25 L297.00,508.32 L297.50,508.38 L298.00,508.45 L298.50,508.52 L299.00,508.58 L299.50,508.65 L300.00,508.71 L300.50,508.78 L301.00,508.84 L301.50,508.91 L302.00,508.97 L302.50,509.04 L303.00,509.11 L303.50,509.17 L304.00,509.24 L304.50,509.30 L305.00,509.37 L305.50,509.44 L306.00,509.51 L306.50,509.59 L307.00,509.66 L307.50,509.73 L308.00,509.81 L308.50,509.89 L309.00,509.97 L309.50,510.04 L310.00,510.12 L310.50,510.20 L311.00,510.28 L311.50,510.36 L312.00,510.43 L312.50,510.51 L313.00,510.59 L313.50,510.67 L314.00,510.74 L314.50,510.82 L315.00,510.90 L315.50,510.98 L316.00,511.05 L316.50,511.13 L317.00,511.21 L317.50,511.29 L318.00,511.37 L318.50,511.44 L319.00,511.52 L319.50,511.60 L320.00,511.68 L320.50,511.75 L321.00,511.83 L321.50,511.91 L322.00,511.99 L322.50,512.07 L323.00,512.14 L323.50,512.22 L324.00,512.30 L324.50,512.38 L325.00,512.45 L325.50,512.53 L326.00,512.61 L326.50,512.69 L327.00,512.76 L327.50,512.84 L328.00,512.91 L328.50,512.97 L329.00,513.02 L329.50,513.07" fill="none" stroke="#ff0000" stroke-width="1.8" stroke-linejoin="round"/>
<rect class="ax" x="36.8" y="404.3" width="311.8" height="134.49999999999994" fill="none" stroke="#000" stroke-width="1.5"/>
<path class="ax" d="M91.3,538.8v-3.6M91.3,404.3v3.6M149.1,538.8v-3.6M149.1,404.3v3.6M206.1,538.8v-3.6M206.1,404.3v3.6M263.4,538.8v-3.6M263.4,404.3v3.6M321.2,538.8v-3.6M321.2,404.3v3.6M36.8,430.8h3.8M348.6,430.8h-3.8M36.8,457.9h3.8M348.6,457.9h-3.8M36.8,484.9h3.8M348.6,484.9h-3.8M36.8,512.0h3.8M348.6,512.0h-3.8" stroke="#000" stroke-width="1.3" fill="none"/>
<text class="txt" x="91.1" y="558.6" font-family="Liberation Sans" font-size="17.8" text-anchor="middle" fill="#000" >2</text>
<text class="txt" x="148.1" y="558.6" font-family="Liberation Sans" font-size="17.8" text-anchor="middle" fill="#000" >4</text>
<text class="txt" x="206.1" y="558.6" font-family="Liberation Sans" font-size="17.8" text-anchor="middle" fill="#000" >6</text>
<text class="txt" x="263.4" y="558.6" font-family="Liberation Sans" font-size="17.8" text-anchor="middle" fill="#000" >8</text>
<text class="txt" x="321.2" y="558.6" font-family="Liberation Sans" font-size="17.8" text-anchor="middle" fill="#000" >10</text>
<text class="txt" x="189" y="577.8" font-family="Liberation Sans" font-size="17.7" text-anchor="middle" fill="#000">2<tspan font-style="italic">θ</tspan> (°)</text>
<text class="txt" x="0" y="393.8" font-family="Liberation Sans" font-size="26" text-anchor="start" fill="#000" >(<tspan font-size="23.5">c</tspan>)</text>
<text class="txt" transform="translate(17.3,561.5) rotate(-90)" font-family="Liberation Sans" font-size="17.7" text-anchor="start" fill="#000">Intensity (arb. units)</text>
</g>
</svg></body></html>
